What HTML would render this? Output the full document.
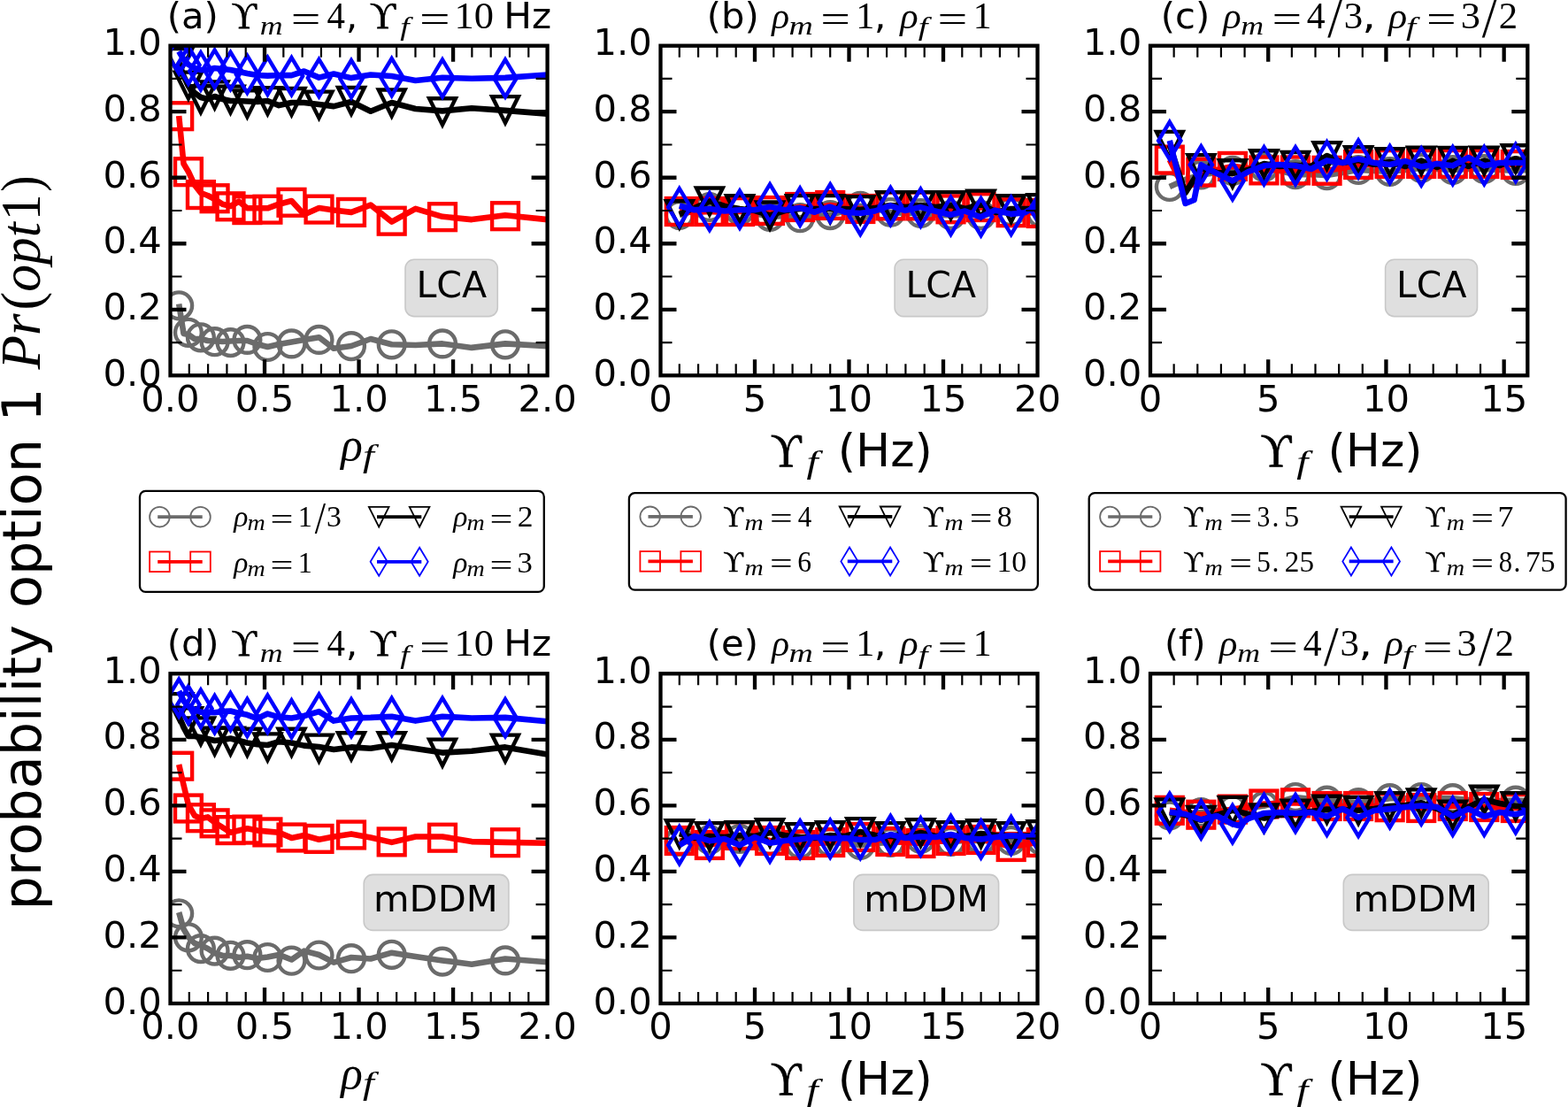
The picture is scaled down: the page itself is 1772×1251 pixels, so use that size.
<!DOCTYPE html><html><head><meta charset="utf-8"><title>Figure</title><style>html,body{margin:0;padding:0;background:#fff;}svg{display:block;}</style></head><body>
<svg width="1772" height="1251" viewBox="0 0 1772 1251">
<rect width="1772" height="1251" fill="#fff"/>
<defs>
<clipPath id="clipa"><rect x="192.5" y="51.7" width="426.1" height="372.6"/></clipPath>
<clipPath id="clipb"><rect x="746.5" y="51.7" width="426" height="372.6"/></clipPath>
<clipPath id="clipc"><rect x="1300" y="51.7" width="426.3" height="372.6"/></clipPath>
<clipPath id="clipd"><rect x="192.5" y="761.3" width="426.1" height="372.7"/></clipPath>
<clipPath id="clipe"><rect x="746.5" y="761.3" width="426" height="372.7"/></clipPath>
<clipPath id="clipf"><rect x="1300" y="761.3" width="426.3" height="372.7"/></clipPath>
</defs>
<g clip-path="url(#clipa)">
<polyline points="202.2,343.5 207.5,377 212.9,378 219.9,383 226.9,383 234.8,385 242.6,385.5 251.5,386 260.5,385.5 270,385 279.4,385 290.9,389 302.4,392 315.2,389 329.5,386.6 343.7,384 360.5,381.2 377.2,393.8 397,391 418.9,383 442.7,389.3 469.6,390 500,388.4 533.1,392.9 571,388.4 618.6,391.1" fill="none" stroke="#6b6b6b" stroke-width="6.6" stroke-linejoin="round" stroke-linecap="butt"/>
<g fill="none" stroke="#6b6b6b" stroke-width="4.4" stroke-linejoin="miter">
<circle cx="202.2" cy="345.3" r="14.9"/>
<circle cx="212.9" cy="375.8" r="14.9"/>
<circle cx="226.9" cy="381.3" r="14.9"/>
<circle cx="242.6" cy="386.2" r="14.9"/>
<circle cx="260.5" cy="387.1" r="14.9"/>
<circle cx="279.4" cy="383.9" r="14.9"/>
<circle cx="302.4" cy="392" r="14.9"/>
<circle cx="329.5" cy="388.4" r="14.9"/>
<circle cx="360.5" cy="383.9" r="14.9"/>
<circle cx="397" cy="391.1" r="14.9"/>
<circle cx="442.7" cy="389.3" r="14.9"/>
<circle cx="500" cy="388.4" r="14.9"/>
<circle cx="571" cy="389.3" r="14.9"/>
</g>
<polyline points="202.2,131 207.5,185 212.9,194 219.9,209 226.9,218 234.8,221 242.6,225 251.5,230.7 260.5,233 270,227.7 279.4,235.3 290.9,235.3 302.4,235.3 315.2,230.7 329.5,227 343.7,242.4 360.5,235 377.2,237.5 397,239.9 418.9,231.7 442.7,250.6 469.6,235.8 500,244.8 533.1,248.1 571,243.2 618.6,248.1" fill="none" stroke="#ff0000" stroke-width="6.6" stroke-linejoin="round" stroke-linecap="butt"/>
<g fill="none" stroke="#ff0000" stroke-width="4.4" stroke-linejoin="miter">
<rect x="187.3" y="116.3" width="29.8" height="29.8"/>
<rect x="198" y="179.3" width="29.8" height="29.8"/>
<rect x="212" y="205.2" width="29.8" height="29.8"/>
<rect x="227.7" y="209.3" width="29.8" height="29.8"/>
<rect x="245.6" y="218.4" width="29.8" height="29.8"/>
<rect x="264.5" y="222.2" width="29.8" height="29.8"/>
<rect x="287.5" y="221.8" width="29.8" height="29.8"/>
<rect x="314.6" y="213.9" width="29.8" height="29.8"/>
<rect x="345.6" y="221.7" width="29.8" height="29.8"/>
<rect x="382.1" y="225" width="29.8" height="29.8"/>
<rect x="427.8" y="234.8" width="29.8" height="29.8"/>
<rect x="485.1" y="230.3" width="29.8" height="29.8"/>
<rect x="556.1" y="229.3" width="29.8" height="29.8"/>
</g>
<polyline points="202.2,70 207.5,86 212.9,97 219.9,105 226.9,110 234.8,112 242.6,109 251.5,112 260.5,114 270,114 279.4,114.5 290.9,115 302.4,114 315.2,119.1 329.5,116 343.7,116 360.5,118.1 377.2,120.1 397,115 418.9,125.7 442.7,116 469.6,123 500,125.4 533.1,122.2 571,124.9 618.6,128.6" fill="none" stroke="#000000" stroke-width="6.6" stroke-linejoin="round" stroke-linecap="butt"/>
<g fill="none" stroke="#000000" stroke-width="4.4" stroke-linejoin="miter">
<path d="M187.3 55.1L217.1 55.1L202.2 84.9Z"/>
<path d="M198 81.6L227.8 81.6L212.9 111.4Z"/>
<path d="M212 97.2L241.8 97.2L226.9 127Z"/>
<path d="M227.7 92.4L257.5 92.4L242.6 122.2Z"/>
<path d="M245.6 97.6L275.4 97.6L260.5 127.4Z"/>
<path d="M264.5 102.4L294.3 102.4L279.4 132.2Z"/>
<path d="M287.5 99.1L317.3 99.1L302.4 128.9Z"/>
<path d="M314.6 100L344.4 100L329.5 129.8Z"/>
<path d="M345.6 103.6L375.4 103.6L360.5 133.4Z"/>
<path d="M382.1 99L411.9 99L397 128.8Z"/>
<path d="M427.8 101.5L457.6 101.5L442.7 131.3Z"/>
<path d="M485.1 111.3L514.9 111.3L500 141.1Z"/>
<path d="M556.1 109.1L585.9 109.1L571 138.9Z"/>
</g>
<polyline points="202.2,58 207.5,67 212.9,73 219.9,77 226.9,79 234.8,79 242.6,77 251.5,78 260.5,79 270,81 279.4,83 290.9,85 302.4,85.6 315.2,85 329.5,85.1 343.7,80.5 360.5,87.6 377.2,83.5 397,88.1 418.9,84.5 442.7,86 469.6,91 500,87.7 533.1,88.8 571,87.9 618.6,84.5" fill="none" stroke="#0000ff" stroke-width="6.6" stroke-linejoin="round" stroke-linecap="butt"/>
<g fill="none" stroke="#0000ff" stroke-width="4.4" stroke-linejoin="miter">
<path d="M202.2 40.93L214.84 62L202.2 83.07L189.56 62Z"/>
<path d="M212.9 52.53L225.54 73.6L212.9 94.67L200.26 73.6Z"/>
<path d="M226.9 59.33L239.54 80.4L226.9 101.47L214.26 80.4Z"/>
<path d="M242.6 56.53L255.24 77.6L242.6 98.67L229.96 77.6Z"/>
<path d="M260.5 58.93L273.14 80L260.5 101.07L247.86 80Z"/>
<path d="M279.4 62.93L292.04 84L279.4 105.07L266.76 84Z"/>
<path d="M302.4 64.73L315.04 85.8L302.4 106.87L289.76 85.8Z"/>
<path d="M329.5 65.03L342.14 86.1L329.5 107.17L316.86 86.1Z"/>
<path d="M360.5 67.03L373.14 88.1L360.5 109.17L347.86 88.1Z"/>
<path d="M397 68.03L409.64 89.1L397 110.17L384.36 89.1Z"/>
<path d="M442.7 66.03L455.34 87.1L442.7 108.17L430.06 87.1Z"/>
<path d="M500 67.33L512.64 88.4L500 109.47L487.36 88.4Z"/>
<path d="M571 67.33L583.64 88.4L571 109.47L558.36 88.4Z"/>
</g>
</g>
<g stroke="#000">
<path d="M213.81 424.3v-13M213.81 51.7v13" stroke-width="2.2"/>
<path d="M235.11 424.3v-13M235.11 51.7v13" stroke-width="2.2"/>
<path d="M256.42 424.3v-13M256.42 51.7v13" stroke-width="2.2"/>
<path d="M277.72 424.3v-13M277.72 51.7v13" stroke-width="2.2"/>
<path d="M320.33 424.3v-13M320.33 51.7v13" stroke-width="2.2"/>
<path d="M341.63 424.3v-13M341.63 51.7v13" stroke-width="2.2"/>
<path d="M362.94 424.3v-13M362.94 51.7v13" stroke-width="2.2"/>
<path d="M384.25 424.3v-13M384.25 51.7v13" stroke-width="2.2"/>
<path d="M426.86 424.3v-13M426.86 51.7v13" stroke-width="2.2"/>
<path d="M448.16 424.3v-13M448.16 51.7v13" stroke-width="2.2"/>
<path d="M469.47 424.3v-13M469.47 51.7v13" stroke-width="2.2"/>
<path d="M490.77 424.3v-13M490.77 51.7v13" stroke-width="2.2"/>
<path d="M533.38 424.3v-13M533.38 51.7v13" stroke-width="2.2"/>
<path d="M554.69 424.3v-13M554.69 51.7v13" stroke-width="2.2"/>
<path d="M575.99 424.3v-13M575.99 51.7v13" stroke-width="2.2"/>
<path d="M597.3 424.3v-13M597.3 51.7v13" stroke-width="2.2"/>
<path d="M299.02 424.3v-18M299.02 51.7v18" stroke-width="4.3"/>
<path d="M405.55 424.3v-18M405.55 51.7v18" stroke-width="4.3"/>
<path d="M512.08 424.3v-18M512.08 51.7v18" stroke-width="4.3"/>
<path d="M192.5 387.04h13M618.6 387.04h-13" stroke-width="2.2"/>
<path d="M192.5 349.78h18M618.6 349.78h-18" stroke-width="4.3"/>
<path d="M192.5 312.52h13M618.6 312.52h-13" stroke-width="2.2"/>
<path d="M192.5 275.26h18M618.6 275.26h-18" stroke-width="4.3"/>
<path d="M192.5 238h13M618.6 238h-13" stroke-width="2.2"/>
<path d="M192.5 200.74h18M618.6 200.74h-18" stroke-width="4.3"/>
<path d="M192.5 163.48h13M618.6 163.48h-13" stroke-width="2.2"/>
<path d="M192.5 126.22h18M618.6 126.22h-18" stroke-width="4.3"/>
<path d="M192.5 88.96h13M618.6 88.96h-13" stroke-width="2.2"/>
</g>
<rect x="192.5" y="51.7" width="426.1" height="372.6" fill="none" stroke="#000" stroke-width="4.3"/>
<g font-family="'DejaVu Sans', 'Liberation Sans', sans-serif" font-size="41.7" fill="#000">
<text x="182.7" y="435.85" text-anchor="end">0.0</text>
<text x="182.7" y="361.08" text-anchor="end">0.2</text>
<text x="182.7" y="286.31" text-anchor="end">0.4</text>
<text x="182.7" y="211.54" text-anchor="end">0.6</text>
<text x="182.7" y="136.77" text-anchor="end">0.8</text>
<text x="182.7" y="62" text-anchor="end">1.0</text>
<text x="192.5" y="464.6" text-anchor="middle">0.0</text>
<text x="299.02" y="464.6" text-anchor="middle">0.5</text>
<text x="405.55" y="464.6" text-anchor="middle">1.0</text>
<text x="512.08" y="464.6" text-anchor="middle">1.5</text>
<text x="618.6" y="464.6" text-anchor="middle">2.0</text>
</g>
<g clip-path="url(#clipb)">
<polyline points="767.8,243 784.84,238 801.88,234 818.92,236 835.96,238 853,241 870.04,245 887.08,244 904.12,246.2 921.16,244 938.2,243.1 955.24,238 972.28,232.9 989.32,236 1006.36,240 1023.4,241 1040.44,241 1057.48,243 1074.52,243.1 1091.56,243 1108.6,243.1 1125.64,241 1142.68,239.2 1172.5,240 1176.76,241" fill="none" stroke="#6b6b6b" stroke-width="6.6" stroke-linejoin="round" stroke-linecap="butt"/>
<g fill="none" stroke="#6b6b6b" stroke-width="4.4" stroke-linejoin="miter">
<circle cx="767.8" cy="243" r="14.9"/>
<circle cx="801.88" cy="234" r="14.9"/>
<circle cx="835.96" cy="238" r="14.9"/>
<circle cx="870.04" cy="245" r="14.9"/>
<circle cx="904.12" cy="246.2" r="14.9"/>
<circle cx="938.2" cy="243.1" r="14.9"/>
<circle cx="972.28" cy="232.9" r="14.9"/>
<circle cx="1006.36" cy="240" r="14.9"/>
<circle cx="1040.44" cy="241" r="14.9"/>
<circle cx="1074.52" cy="243.1" r="14.9"/>
<circle cx="1108.6" cy="243.1" r="14.9"/>
<circle cx="1142.68" cy="239.2" r="14.9"/>
<circle cx="1176.76" cy="241" r="14.9"/>
</g>
<polyline points="767.8,239 784.84,240 801.88,239 818.92,240 835.96,239 853,239 870.04,238 887.08,237 904.12,234 921.16,235 938.2,232 955.24,234 972.28,236 989.32,235 1006.36,232.4 1023.4,233 1040.44,232.4 1057.48,235 1074.52,236.3 1091.56,236 1108.6,234.1 1125.64,238 1142.68,240.2 1172.5,240 1176.76,241" fill="none" stroke="#ff0000" stroke-width="6.6" stroke-linejoin="round" stroke-linecap="butt"/>
<g fill="none" stroke="#ff0000" stroke-width="4.4" stroke-linejoin="miter">
<rect x="752.9" y="224.1" width="29.8" height="29.8"/>
<rect x="786.98" y="224.1" width="29.8" height="29.8"/>
<rect x="821.06" y="224.1" width="29.8" height="29.8"/>
<rect x="855.14" y="223.1" width="29.8" height="29.8"/>
<rect x="889.22" y="219.1" width="29.8" height="29.8"/>
<rect x="923.3" y="217.1" width="29.8" height="29.8"/>
<rect x="957.38" y="221.1" width="29.8" height="29.8"/>
<rect x="991.46" y="217.5" width="29.8" height="29.8"/>
<rect x="1025.54" y="217.5" width="29.8" height="29.8"/>
<rect x="1059.62" y="221.4" width="29.8" height="29.8"/>
<rect x="1093.7" y="219.2" width="29.8" height="29.8"/>
<rect x="1127.78" y="225.3" width="29.8" height="29.8"/>
<rect x="1161.86" y="226.1" width="29.8" height="29.8"/>
</g>
<polyline points="767.8,242.1 784.84,235 801.88,227.4 818.92,233 835.96,236 853,238 870.04,243.4 887.08,238 904.12,236 921.16,236 938.2,236 955.24,236 972.28,237 989.32,235 1006.36,232 1023.4,234 1040.44,232 1057.48,234 1074.52,232 1091.56,236 1108.6,230.5 1125.64,240 1142.68,236 1172.5,236 1176.76,235" fill="none" stroke="#000000" stroke-width="6.6" stroke-linejoin="round" stroke-linecap="butt"/>
<g fill="none" stroke="#000000" stroke-width="4.4" stroke-linejoin="miter">
<path d="M752.9 227.2L782.7 227.2L767.8 257Z"/>
<path d="M786.98 212.5L816.78 212.5L801.88 242.3Z"/>
<path d="M821.06 221.1L850.86 221.1L835.96 250.9Z"/>
<path d="M855.14 228.5L884.94 228.5L870.04 258.3Z"/>
<path d="M889.22 221.1L919.02 221.1L904.12 250.9Z"/>
<path d="M923.3 221.1L953.1 221.1L938.2 250.9Z"/>
<path d="M957.38 222.1L987.18 222.1L972.28 251.9Z"/>
<path d="M991.46 217.1L1021.26 217.1L1006.36 246.9Z"/>
<path d="M1025.54 217.1L1055.34 217.1L1040.44 246.9Z"/>
<path d="M1059.62 217.1L1089.42 217.1L1074.52 246.9Z"/>
<path d="M1093.7 215.6L1123.5 215.6L1108.6 245.4Z"/>
<path d="M1127.78 221.1L1157.58 221.1L1142.68 250.9Z"/>
<path d="M1161.86 220.1L1191.66 220.1L1176.76 249.9Z"/>
</g>
<polyline points="767.8,232.5 784.8,237.3 801.8,236.1 818.8,238.5 835.8,237.3 852.8,237.3 870.2,233.7 886.7,237.3 903.7,234.9 920.7,239.7 937.7,233.7 954.7,239.7 972.2,241 988.7,238.5 1006.1,232.4 1022.6,238 1040.1,234.1 1056.6,238.5 1074.1,242.8 1090.6,238.5 1108,245.4 1124.5,237.6 1142.7,241.9 1158.5,240.2 1172.5,232 1176.76,236" fill="none" stroke="#0000ff" stroke-width="6.6" stroke-linejoin="round" stroke-linecap="butt"/>
<g fill="none" stroke="#0000ff" stroke-width="4.4" stroke-linejoin="miter">
<path d="M767.8 213.13L780.44 234.2L767.8 255.27L755.16 234.2Z"/>
<path d="M801.88 217.93L814.52 239L801.88 260.07L789.24 239Z"/>
<path d="M835.96 215.53L848.6 236.6L835.96 257.67L823.32 236.6Z"/>
<path d="M870.04 208.23L882.68 229.3L870.04 250.37L857.4 229.3Z"/>
<path d="M904.12 212.63L916.76 233.7L904.12 254.77L891.48 233.7Z"/>
<path d="M938.2 208.23L950.84 229.3L938.2 250.37L925.56 229.3Z"/>
<path d="M972.28 222.83L984.92 243.9L972.28 264.97L959.64 243.9Z"/>
<path d="M1006.36 211.93L1019 233L1006.36 254.07L993.72 233Z"/>
<path d="M1040.44 213.53L1053.08 234.6L1040.44 255.67L1027.8 234.6Z"/>
<path d="M1074.52 222.83L1087.16 243.9L1074.52 264.97L1061.88 243.9Z"/>
<path d="M1108.6 224.03L1121.24 245.1L1108.6 266.17L1095.96 245.1Z"/>
<path d="M1142.68 222.83L1155.32 243.9L1142.68 264.97L1130.04 243.9Z"/>
<path d="M1176.76 214.93L1189.4 236L1176.76 257.07L1164.12 236Z"/>
</g>
</g>
<g stroke="#000">
<path d="M767.8 424.3v-13M767.8 51.7v13" stroke-width="2.2"/>
<path d="M789.1 424.3v-13M789.1 51.7v13" stroke-width="2.2"/>
<path d="M810.4 424.3v-13M810.4 51.7v13" stroke-width="2.2"/>
<path d="M831.7 424.3v-13M831.7 51.7v13" stroke-width="2.2"/>
<path d="M874.3 424.3v-13M874.3 51.7v13" stroke-width="2.2"/>
<path d="M895.6 424.3v-13M895.6 51.7v13" stroke-width="2.2"/>
<path d="M916.9 424.3v-13M916.9 51.7v13" stroke-width="2.2"/>
<path d="M938.2 424.3v-13M938.2 51.7v13" stroke-width="2.2"/>
<path d="M980.8 424.3v-13M980.8 51.7v13" stroke-width="2.2"/>
<path d="M1002.1 424.3v-13M1002.1 51.7v13" stroke-width="2.2"/>
<path d="M1023.4 424.3v-13M1023.4 51.7v13" stroke-width="2.2"/>
<path d="M1044.7 424.3v-13M1044.7 51.7v13" stroke-width="2.2"/>
<path d="M1087.3 424.3v-13M1087.3 51.7v13" stroke-width="2.2"/>
<path d="M1108.6 424.3v-13M1108.6 51.7v13" stroke-width="2.2"/>
<path d="M1129.9 424.3v-13M1129.9 51.7v13" stroke-width="2.2"/>
<path d="M1151.2 424.3v-13M1151.2 51.7v13" stroke-width="2.2"/>
<path d="M853 424.3v-18M853 51.7v18" stroke-width="4.3"/>
<path d="M959.5 424.3v-18M959.5 51.7v18" stroke-width="4.3"/>
<path d="M1066 424.3v-18M1066 51.7v18" stroke-width="4.3"/>
<path d="M746.5 387.04h13M1172.5 387.04h-13" stroke-width="2.2"/>
<path d="M746.5 349.78h18M1172.5 349.78h-18" stroke-width="4.3"/>
<path d="M746.5 312.52h13M1172.5 312.52h-13" stroke-width="2.2"/>
<path d="M746.5 275.26h18M1172.5 275.26h-18" stroke-width="4.3"/>
<path d="M746.5 238h13M1172.5 238h-13" stroke-width="2.2"/>
<path d="M746.5 200.74h18M1172.5 200.74h-18" stroke-width="4.3"/>
<path d="M746.5 163.48h13M1172.5 163.48h-13" stroke-width="2.2"/>
<path d="M746.5 126.22h18M1172.5 126.22h-18" stroke-width="4.3"/>
<path d="M746.5 88.96h13M1172.5 88.96h-13" stroke-width="2.2"/>
</g>
<rect x="746.5" y="51.7" width="426" height="372.6" fill="none" stroke="#000" stroke-width="4.3"/>
<g font-family="'DejaVu Sans', 'Liberation Sans', sans-serif" font-size="41.7" fill="#000">
<text x="736.7" y="435.85" text-anchor="end">0.0</text>
<text x="736.7" y="361.08" text-anchor="end">0.2</text>
<text x="736.7" y="286.31" text-anchor="end">0.4</text>
<text x="736.7" y="211.54" text-anchor="end">0.6</text>
<text x="736.7" y="136.77" text-anchor="end">0.8</text>
<text x="736.7" y="62" text-anchor="end">1.0</text>
<text x="746.5" y="464.6" text-anchor="middle">0</text>
<text x="853" y="464.6" text-anchor="middle">5</text>
<text x="959.5" y="464.6" text-anchor="middle">10</text>
<text x="1066" y="464.6" text-anchor="middle">15</text>
<text x="1172.5" y="464.6" text-anchor="middle">20</text>
</g>
<g clip-path="url(#clipc)">
<polyline points="1321.8,211 1339.57,203 1357.35,197.5 1375.12,195 1392.9,192.9 1410.67,191 1428.45,189 1446.22,193 1464,197.2 1481.78,197 1499.55,198.1 1517.32,195 1535.1,192 1552.88,193 1570.65,194 1588.42,192 1606.2,190 1623.97,191 1641.75,192 1659.53,191 1677.3,191 1695.07,192 1712.85,193 1726.3,192" fill="none" stroke="#6b6b6b" stroke-width="6.6" stroke-linejoin="round" stroke-linecap="butt"/>
<g fill="none" stroke="#6b6b6b" stroke-width="4.4" stroke-linejoin="miter">
<circle cx="1321.8" cy="211" r="14.9"/>
<circle cx="1357.35" cy="197.5" r="14.9"/>
<circle cx="1392.9" cy="192.9" r="14.9"/>
<circle cx="1428.45" cy="189" r="14.9"/>
<circle cx="1464" cy="197.2" r="14.9"/>
<circle cx="1499.55" cy="198.1" r="14.9"/>
<circle cx="1535.1" cy="192" r="14.9"/>
<circle cx="1570.65" cy="194" r="14.9"/>
<circle cx="1606.2" cy="190" r="14.9"/>
<circle cx="1641.75" cy="192" r="14.9"/>
<circle cx="1677.3" cy="191" r="14.9"/>
<circle cx="1712.85" cy="193" r="14.9"/>
</g>
<polyline points="1321.8,180.6 1339.57,216 1357.35,194.6 1375.12,192 1392.9,187.9 1410.67,190 1428.45,192.4 1446.22,192 1464,192.4 1481.78,192 1499.55,192.8 1517.32,190 1535.1,186 1552.88,186 1570.65,185 1588.42,185 1606.2,185 1623.97,185 1641.75,185 1659.53,185 1677.3,185 1695.07,185 1712.85,186 1726.3,186" fill="none" stroke="#ff0000" stroke-width="6.6" stroke-linejoin="round" stroke-linecap="butt"/>
<g fill="none" stroke="#ff0000" stroke-width="4.4" stroke-linejoin="miter">
<rect x="1306.9" y="165.7" width="29.8" height="29.8"/>
<rect x="1342.45" y="179.7" width="29.8" height="29.8"/>
<rect x="1378" y="173" width="29.8" height="29.8"/>
<rect x="1413.55" y="177.5" width="29.8" height="29.8"/>
<rect x="1449.1" y="177.5" width="29.8" height="29.8"/>
<rect x="1484.65" y="177.9" width="29.8" height="29.8"/>
<rect x="1520.2" y="171.1" width="29.8" height="29.8"/>
<rect x="1555.75" y="170.1" width="29.8" height="29.8"/>
<rect x="1591.3" y="170.1" width="29.8" height="29.8"/>
<rect x="1626.85" y="170.1" width="29.8" height="29.8"/>
<rect x="1662.4" y="170.1" width="29.8" height="29.8"/>
<rect x="1697.95" y="171.1" width="29.8" height="29.8"/>
</g>
<polyline points="1321.8,163.8 1339.57,218 1357.35,190 1375.12,195 1392.9,196.1 1410.67,192 1428.45,185.1 1446.22,188 1464,186.9 1481.78,188 1499.55,176 1517.32,184 1535.1,181.1 1552.88,186 1570.65,183 1588.42,188 1606.2,181.5 1623.97,189 1641.75,181.8 1659.53,188 1677.3,181.5 1695.07,187 1712.85,179.2 1726.3,186" fill="none" stroke="#000000" stroke-width="6.6" stroke-linejoin="round" stroke-linecap="butt"/>
<g fill="none" stroke="#000000" stroke-width="4.4" stroke-linejoin="miter">
<path d="M1306.9 148.9L1336.7 148.9L1321.8 178.7Z"/>
<path d="M1342.45 175.1L1372.25 175.1L1357.35 204.9Z"/>
<path d="M1378 181.2L1407.8 181.2L1392.9 211Z"/>
<path d="M1413.55 170.2L1443.35 170.2L1428.45 200Z"/>
<path d="M1449.1 172L1478.9 172L1464 201.8Z"/>
<path d="M1484.65 161.1L1514.45 161.1L1499.55 190.9Z"/>
<path d="M1520.2 166.2L1550 166.2L1535.1 196Z"/>
<path d="M1555.75 168.1L1585.55 168.1L1570.65 197.9Z"/>
<path d="M1591.3 166.6L1621.1 166.6L1606.2 196.4Z"/>
<path d="M1626.85 166.9L1656.65 166.9L1641.75 196.7Z"/>
<path d="M1662.4 166.6L1692.2 166.6L1677.3 196.4Z"/>
<path d="M1697.95 164.3L1727.75 164.3L1712.85 194.1Z"/>
</g>
<polyline points="1321.8,158.9 1339.57,230 1349.5,226 1357.35,186.3 1375.12,196 1392.9,204.4 1410.67,194 1428.45,187.3 1446.22,186 1464,187.3 1481.78,191 1499.55,181.4 1517.32,184 1535.1,179.5 1552.88,184 1570.65,186 1588.42,182 1606.2,188.5 1623.97,185 1641.75,187.2 1659.53,178 1677.3,187.2 1695.07,184 1712.85,184 1726.3,184" fill="none" stroke="#0000ff" stroke-width="6.6" stroke-linejoin="round" stroke-linecap="butt"/>
<g fill="none" stroke="#0000ff" stroke-width="4.4" stroke-linejoin="miter">
<path d="M1321.8 137.83L1334.44 158.9L1321.8 179.97L1309.16 158.9Z"/>
<path d="M1357.35 165.23L1369.99 186.3L1357.35 207.37L1344.71 186.3Z"/>
<path d="M1392.9 183.33L1405.54 204.4L1392.9 225.47L1380.26 204.4Z"/>
<path d="M1428.45 166.23L1441.09 187.3L1428.45 208.37L1415.81 187.3Z"/>
<path d="M1464 166.23L1476.64 187.3L1464 208.37L1451.36 187.3Z"/>
<path d="M1499.55 160.33L1512.19 181.4L1499.55 202.47L1486.91 181.4Z"/>
<path d="M1535.1 158.43L1547.74 179.5L1535.1 200.57L1522.46 179.5Z"/>
<path d="M1570.65 164.93L1583.29 186L1570.65 207.07L1558.01 186Z"/>
<path d="M1606.2 167.43L1618.84 188.5L1606.2 209.57L1593.56 188.5Z"/>
<path d="M1641.75 166.13L1654.39 187.2L1641.75 208.27L1629.11 187.2Z"/>
<path d="M1677.3 166.13L1689.94 187.2L1677.3 208.27L1664.66 187.2Z"/>
<path d="M1712.85 162.93L1725.49 184L1712.85 205.07L1700.21 184Z"/>
</g>
</g>
<g stroke="#000">
<path d="M1326.64 424.3v-13M1326.64 51.7v13" stroke-width="2.2"/>
<path d="M1353.29 424.3v-13M1353.29 51.7v13" stroke-width="2.2"/>
<path d="M1379.93 424.3v-13M1379.93 51.7v13" stroke-width="2.2"/>
<path d="M1406.58 424.3v-13M1406.58 51.7v13" stroke-width="2.2"/>
<path d="M1459.86 424.3v-13M1459.86 51.7v13" stroke-width="2.2"/>
<path d="M1486.51 424.3v-13M1486.51 51.7v13" stroke-width="2.2"/>
<path d="M1513.15 424.3v-13M1513.15 51.7v13" stroke-width="2.2"/>
<path d="M1539.79 424.3v-13M1539.79 51.7v13" stroke-width="2.2"/>
<path d="M1593.08 424.3v-13M1593.08 51.7v13" stroke-width="2.2"/>
<path d="M1619.72 424.3v-13M1619.72 51.7v13" stroke-width="2.2"/>
<path d="M1646.37 424.3v-13M1646.37 51.7v13" stroke-width="2.2"/>
<path d="M1673.01 424.3v-13M1673.01 51.7v13" stroke-width="2.2"/>
<path d="M1433.22 424.3v-18M1433.22 51.7v18" stroke-width="4.3"/>
<path d="M1566.44 424.3v-18M1566.44 51.7v18" stroke-width="4.3"/>
<path d="M1699.66 424.3v-18M1699.66 51.7v18" stroke-width="4.3"/>
<path d="M1300 387.04h13M1726.3 387.04h-13" stroke-width="2.2"/>
<path d="M1300 349.78h18M1726.3 349.78h-18" stroke-width="4.3"/>
<path d="M1300 312.52h13M1726.3 312.52h-13" stroke-width="2.2"/>
<path d="M1300 275.26h18M1726.3 275.26h-18" stroke-width="4.3"/>
<path d="M1300 238h13M1726.3 238h-13" stroke-width="2.2"/>
<path d="M1300 200.74h18M1726.3 200.74h-18" stroke-width="4.3"/>
<path d="M1300 163.48h13M1726.3 163.48h-13" stroke-width="2.2"/>
<path d="M1300 126.22h18M1726.3 126.22h-18" stroke-width="4.3"/>
<path d="M1300 88.96h13M1726.3 88.96h-13" stroke-width="2.2"/>
</g>
<rect x="1300" y="51.7" width="426.3" height="372.6" fill="none" stroke="#000" stroke-width="4.3"/>
<g font-family="'DejaVu Sans', 'Liberation Sans', sans-serif" font-size="41.7" fill="#000">
<text x="1290.2" y="435.85" text-anchor="end">0.0</text>
<text x="1290.2" y="361.08" text-anchor="end">0.2</text>
<text x="1290.2" y="286.31" text-anchor="end">0.4</text>
<text x="1290.2" y="211.54" text-anchor="end">0.6</text>
<text x="1290.2" y="136.77" text-anchor="end">0.8</text>
<text x="1290.2" y="62" text-anchor="end">1.0</text>
<text x="1300" y="464.6" text-anchor="middle">0</text>
<text x="1433.22" y="464.6" text-anchor="middle">5</text>
<text x="1566.44" y="464.6" text-anchor="middle">10</text>
<text x="1699.66" y="464.6" text-anchor="middle">15</text>
</g>
<g clip-path="url(#clipd)">
<polyline points="202.2,1031 207.5,1050 212.9,1059 219.9,1066 226.9,1068.3 234.8,1072 242.6,1077 251.5,1080 260.5,1080 270,1082 279.4,1080.8 290.9,1083 302.4,1081.5 315.2,1078.9 329.5,1084.5 343.7,1074.6 360.5,1079 377.2,1087.6 397,1082 418.9,1083.5 442.7,1076.7 469.6,1081 500,1085.4 533.1,1089.7 571,1083.5 618.6,1087.2" fill="none" stroke="#6b6b6b" stroke-width="6.6" stroke-linejoin="round" stroke-linecap="butt"/>
<g fill="none" stroke="#6b6b6b" stroke-width="4.4" stroke-linejoin="miter">
<circle cx="202.2" cy="1032.3" r="14.9"/>
<circle cx="212.9" cy="1059.3" r="14.9"/>
<circle cx="226.9" cy="1072.1" r="14.9"/>
<circle cx="242.6" cy="1074.6" r="14.9"/>
<circle cx="260.5" cy="1079.8" r="14.9"/>
<circle cx="279.4" cy="1079.2" r="14.9"/>
<circle cx="302.4" cy="1082" r="14.9"/>
<circle cx="329.5" cy="1085.7" r="14.9"/>
<circle cx="360.5" cy="1079.5" r="14.9"/>
<circle cx="397" cy="1083.2" r="14.9"/>
<circle cx="442.7" cy="1078.8" r="14.9"/>
<circle cx="500" cy="1086.6" r="14.9"/>
<circle cx="571" cy="1085.4" r="14.9"/>
</g>
<polyline points="202.2,864 207.5,887 212.9,909.4 219.9,921.7 226.9,925 234.8,923.4 242.6,929.5 251.5,935 260.5,940.7 270,938.5 279.4,936.2 290.9,938.5 302.4,939.6 315.2,940.7 329.5,946.9 343.7,944 360.5,948.7 377.2,945.5 397,942.4 418.9,946.5 442.7,951.9 469.6,945.5 500,945.5 533.1,951.1 571,951.9 618.6,952.7" fill="none" stroke="#ff0000" stroke-width="6.6" stroke-linejoin="round" stroke-linecap="butt"/>
<g fill="none" stroke="#ff0000" stroke-width="4.4" stroke-linejoin="miter">
<rect x="187.3" y="850.8" width="29.8" height="29.8"/>
<rect x="198" y="898.6" width="29.8" height="29.8"/>
<rect x="212" y="909.3" width="29.8" height="29.8"/>
<rect x="227.7" y="915.4" width="29.8" height="29.8"/>
<rect x="245.6" y="923.2" width="29.8" height="29.8"/>
<rect x="264.5" y="922.7" width="29.8" height="29.8"/>
<rect x="287.5" y="925.5" width="29.8" height="29.8"/>
<rect x="314.6" y="931.6" width="29.8" height="29.8"/>
<rect x="345.6" y="933" width="29.8" height="29.8"/>
<rect x="382.1" y="928.6" width="29.8" height="29.8"/>
<rect x="427.8" y="936.5" width="29.8" height="29.8"/>
<rect x="485.1" y="931.8" width="29.8" height="29.8"/>
<rect x="556.1" y="937.3" width="29.8" height="29.8"/>
</g>
<polyline points="202.2,809 207.5,822 212.9,832 219.9,832 226.9,833.2 234.8,835 242.6,837 251.5,836 260.5,834.5 270,837 279.4,839.5 290.9,841.3 302.4,842 315.2,838.2 329.5,839.5 343.7,842.6 360.5,844 377.2,846.9 397,844.4 418.9,845.7 442.7,842 469.6,846 500,850.6 533.1,848.8 571,844.4 618.6,852.5" fill="none" stroke="#000000" stroke-width="6.6" stroke-linejoin="round" stroke-linecap="butt"/>
<g fill="none" stroke="#000000" stroke-width="4.4" stroke-linejoin="miter">
<path d="M187.3 784.1L217.1 784.1L202.2 813.9Z"/>
<path d="M198 800.2L227.8 800.2L212.9 830Z"/>
<path d="M212 811.4L241.8 811.4L226.9 841.2Z"/>
<path d="M227.7 822.6L257.5 822.6L242.6 852.4Z"/>
<path d="M245.6 822.6L275.4 822.6L260.5 852.4Z"/>
<path d="M264.5 823.8L294.3 823.8L279.4 853.6Z"/>
<path d="M287.5 829.4L317.3 829.4L302.4 859.2Z"/>
<path d="M314.6 823.8L344.4 823.8L329.5 853.6Z"/>
<path d="M345.6 830.6L375.4 830.6L360.5 860.4Z"/>
<path d="M382.1 828.2L411.9 828.2L397 858Z"/>
<path d="M427.8 828.2L457.6 828.2L442.7 858Z"/>
<path d="M485.1 835.6L514.9 835.6L500 865.4Z"/>
<path d="M556.1 830.6L585.9 830.6L571 860.4Z"/>
</g>
<polyline points="202.2,781 207.5,792 212.9,798 219.9,802 226.9,804.7 234.8,805 242.6,805.3 251.5,804 260.5,803.5 270,806 279.4,807.8 290.9,812.1 302.4,806.6 315.2,810.3 329.5,811.5 343.7,809 360.5,804.1 377.2,814.6 397,811.5 418.9,810.9 442.7,809.7 469.6,814.6 500,809.7 533.1,811.5 571,810.9 618.6,815.2" fill="none" stroke="#0000ff" stroke-width="6.6" stroke-linejoin="round" stroke-linecap="butt"/>
<g fill="none" stroke="#0000ff" stroke-width="4.4" stroke-linejoin="miter">
<path d="M202.2 767.53L214.84 788.6L202.2 809.67L189.56 788.6Z"/>
<path d="M212.9 775.53L225.54 796.6L212.9 817.67L200.26 796.6Z"/>
<path d="M226.9 779.63L239.54 800.7L226.9 821.77L214.26 800.7Z"/>
<path d="M242.6 786.13L255.24 807.2L242.6 828.27L229.96 807.2Z"/>
<path d="M260.5 783.03L273.14 804.1L260.5 825.17L247.86 804.1Z"/>
<path d="M279.4 789.83L292.04 810.9L279.4 831.97L266.76 810.9Z"/>
<path d="M302.4 785.53L315.04 806.6L302.4 827.67L289.76 806.6Z"/>
<path d="M329.5 791.33L342.14 812.4L329.5 833.47L316.86 812.4Z"/>
<path d="M360.5 784.53L373.14 805.6L360.5 826.67L347.86 805.6Z"/>
<path d="M397 790.03L409.64 811.1L397 832.17L384.36 811.1Z"/>
<path d="M442.7 788.83L455.34 809.9L442.7 830.97L430.06 809.9Z"/>
<path d="M500 788.83L512.64 809.9L500 830.97L487.36 809.9Z"/>
<path d="M571 790.03L583.64 811.1L571 832.17L558.36 811.1Z"/>
</g>
</g>
<g stroke="#000">
<path d="M213.81 1134v-13M213.81 761.3v13" stroke-width="2.2"/>
<path d="M235.11 1134v-13M235.11 761.3v13" stroke-width="2.2"/>
<path d="M256.42 1134v-13M256.42 761.3v13" stroke-width="2.2"/>
<path d="M277.72 1134v-13M277.72 761.3v13" stroke-width="2.2"/>
<path d="M320.33 1134v-13M320.33 761.3v13" stroke-width="2.2"/>
<path d="M341.63 1134v-13M341.63 761.3v13" stroke-width="2.2"/>
<path d="M362.94 1134v-13M362.94 761.3v13" stroke-width="2.2"/>
<path d="M384.25 1134v-13M384.25 761.3v13" stroke-width="2.2"/>
<path d="M426.86 1134v-13M426.86 761.3v13" stroke-width="2.2"/>
<path d="M448.16 1134v-13M448.16 761.3v13" stroke-width="2.2"/>
<path d="M469.47 1134v-13M469.47 761.3v13" stroke-width="2.2"/>
<path d="M490.77 1134v-13M490.77 761.3v13" stroke-width="2.2"/>
<path d="M533.38 1134v-13M533.38 761.3v13" stroke-width="2.2"/>
<path d="M554.69 1134v-13M554.69 761.3v13" stroke-width="2.2"/>
<path d="M575.99 1134v-13M575.99 761.3v13" stroke-width="2.2"/>
<path d="M597.3 1134v-13M597.3 761.3v13" stroke-width="2.2"/>
<path d="M299.02 1134v-18M299.02 761.3v18" stroke-width="4.3"/>
<path d="M405.55 1134v-18M405.55 761.3v18" stroke-width="4.3"/>
<path d="M512.08 1134v-18M512.08 761.3v18" stroke-width="4.3"/>
<path d="M192.5 1096.73h13M618.6 1096.73h-13" stroke-width="2.2"/>
<path d="M192.5 1059.46h18M618.6 1059.46h-18" stroke-width="4.3"/>
<path d="M192.5 1022.19h13M618.6 1022.19h-13" stroke-width="2.2"/>
<path d="M192.5 984.92h18M618.6 984.92h-18" stroke-width="4.3"/>
<path d="M192.5 947.65h13M618.6 947.65h-13" stroke-width="2.2"/>
<path d="M192.5 910.38h18M618.6 910.38h-18" stroke-width="4.3"/>
<path d="M192.5 873.11h13M618.6 873.11h-13" stroke-width="2.2"/>
<path d="M192.5 835.84h18M618.6 835.84h-18" stroke-width="4.3"/>
<path d="M192.5 798.57h13M618.6 798.57h-13" stroke-width="2.2"/>
</g>
<rect x="192.5" y="761.3" width="426.1" height="372.7" fill="none" stroke="#000" stroke-width="4.3"/>
<g font-family="'DejaVu Sans', 'Liberation Sans', sans-serif" font-size="41.7" fill="#000">
<text x="182.7" y="1145.55" text-anchor="end">0.0</text>
<text x="182.7" y="1070.76" text-anchor="end">0.2</text>
<text x="182.7" y="995.97" text-anchor="end">0.4</text>
<text x="182.7" y="921.18" text-anchor="end">0.6</text>
<text x="182.7" y="846.39" text-anchor="end">0.8</text>
<text x="182.7" y="771.6" text-anchor="end">1.0</text>
<text x="192.5" y="1174.3" text-anchor="middle">0.0</text>
<text x="299.02" y="1174.3" text-anchor="middle">0.5</text>
<text x="405.55" y="1174.3" text-anchor="middle">1.0</text>
<text x="512.08" y="1174.3" text-anchor="middle">1.5</text>
<text x="618.6" y="1174.3" text-anchor="middle">2.0</text>
</g>
<g clip-path="url(#clipe)">
<polyline points="767.8,951 784.84,950 801.88,949 818.92,949 835.96,948 853,949 870.04,950 887.08,952 904.12,954 921.16,953 938.2,952 955.24,953 972.28,955 989.32,953 1006.36,952 1023.4,950 1040.44,948 1057.48,950 1074.52,951 1091.56,950 1108.6,950 1125.64,950 1142.68,950 1172.5,950 1176.76,950" fill="none" stroke="#6b6b6b" stroke-width="6.6" stroke-linejoin="round" stroke-linecap="butt"/>
<g fill="none" stroke="#6b6b6b" stroke-width="4.4" stroke-linejoin="miter">
<circle cx="767.8" cy="951" r="14.9"/>
<circle cx="801.88" cy="949" r="14.9"/>
<circle cx="835.96" cy="948" r="14.9"/>
<circle cx="870.04" cy="950" r="14.9"/>
<circle cx="904.12" cy="954" r="14.9"/>
<circle cx="938.2" cy="952" r="14.9"/>
<circle cx="972.28" cy="955" r="14.9"/>
<circle cx="1006.36" cy="952" r="14.9"/>
<circle cx="1040.44" cy="948" r="14.9"/>
<circle cx="1074.52" cy="951" r="14.9"/>
<circle cx="1108.6" cy="950" r="14.9"/>
<circle cx="1142.68" cy="950" r="14.9"/>
<circle cx="1176.76" cy="950" r="14.9"/>
</g>
<polyline points="767.8,950 784.84,952 801.88,955 818.92,950 835.96,944 853,947 870.04,950 887.08,952 904.12,955 921.16,953 938.2,952 955.24,949 972.28,946 989.32,948 1006.36,951 1023.4,952 1040.44,953 1057.48,951 1074.52,950 1091.56,949 1108.6,949 1125.64,952 1142.68,957 1172.5,952 1176.76,952" fill="none" stroke="#ff0000" stroke-width="6.6" stroke-linejoin="round" stroke-linecap="butt"/>
<g fill="none" stroke="#ff0000" stroke-width="4.4" stroke-linejoin="miter">
<rect x="752.9" y="935.1" width="29.8" height="29.8"/>
<rect x="786.98" y="940.1" width="29.8" height="29.8"/>
<rect x="821.06" y="929.1" width="29.8" height="29.8"/>
<rect x="855.14" y="935.1" width="29.8" height="29.8"/>
<rect x="889.22" y="940.1" width="29.8" height="29.8"/>
<rect x="923.3" y="937.1" width="29.8" height="29.8"/>
<rect x="957.38" y="931.1" width="29.8" height="29.8"/>
<rect x="991.46" y="936.1" width="29.8" height="29.8"/>
<rect x="1025.54" y="938.1" width="29.8" height="29.8"/>
<rect x="1059.62" y="935.1" width="29.8" height="29.8"/>
<rect x="1093.7" y="934.1" width="29.8" height="29.8"/>
<rect x="1127.78" y="942.1" width="29.8" height="29.8"/>
<rect x="1161.86" y="937.1" width="29.8" height="29.8"/>
</g>
<polyline points="767.8,942 784.84,947 801.88,945 818.92,946 835.96,944 853,945 870.04,941 887.08,944 904.12,946 921.16,947 938.2,944 955.24,945 972.28,940 989.32,944 1006.36,945 1023.4,946 1040.44,941 1057.48,945 1074.52,944 1091.56,945 1108.6,942 1125.64,944 1142.68,945 1172.5,944 1176.76,943" fill="none" stroke="#000000" stroke-width="6.6" stroke-linejoin="round" stroke-linecap="butt"/>
<g fill="none" stroke="#000000" stroke-width="4.4" stroke-linejoin="miter">
<path d="M752.9 927.1L782.7 927.1L767.8 956.9Z"/>
<path d="M786.98 930.1L816.78 930.1L801.88 959.9Z"/>
<path d="M821.06 929.1L850.86 929.1L835.96 958.9Z"/>
<path d="M855.14 926.1L884.94 926.1L870.04 955.9Z"/>
<path d="M889.22 931.1L919.02 931.1L904.12 960.9Z"/>
<path d="M923.3 929.1L953.1 929.1L938.2 958.9Z"/>
<path d="M957.38 925.1L987.18 925.1L972.28 954.9Z"/>
<path d="M991.46 930.1L1021.26 930.1L1006.36 959.9Z"/>
<path d="M1025.54 926.1L1055.34 926.1L1040.44 955.9Z"/>
<path d="M1059.62 929.1L1089.42 929.1L1074.52 958.9Z"/>
<path d="M1093.7 927.1L1123.5 927.1L1108.6 956.9Z"/>
<path d="M1127.78 930.1L1157.58 930.1L1142.68 959.9Z"/>
<path d="M1161.86 928.1L1191.66 928.1L1176.76 957.9Z"/>
</g>
<polyline points="767.8,955.1 784.84,945 801.88,950.2 818.92,948 835.96,955.1 853,946 870.04,952.7 887.08,950 904.12,948.5 921.16,946 938.2,947.8 955.24,947 972.28,949 989.32,949 1006.36,943 1023.4,947 1040.44,945.4 1057.48,946 1074.52,943 1091.56,947 1108.6,948.5 1125.64,946 1142.68,944.2 1172.5,946 1176.76,946" fill="none" stroke="#0000ff" stroke-width="6.6" stroke-linejoin="round" stroke-linecap="butt"/>
<g fill="none" stroke="#0000ff" stroke-width="4.4" stroke-linejoin="miter">
<path d="M767.8 934.03L780.44 955.1L767.8 976.17L755.16 955.1Z"/>
<path d="M801.88 929.13L814.52 950.2L801.88 971.27L789.24 950.2Z"/>
<path d="M835.96 934.03L848.6 955.1L835.96 976.17L823.32 955.1Z"/>
<path d="M870.04 931.63L882.68 952.7L870.04 973.77L857.4 952.7Z"/>
<path d="M904.12 927.43L916.76 948.5L904.12 969.57L891.48 948.5Z"/>
<path d="M938.2 926.73L950.84 947.8L938.2 968.87L925.56 947.8Z"/>
<path d="M972.28 927.93L984.92 949L972.28 970.07L959.64 949Z"/>
<path d="M1006.36 921.93L1019 943L1006.36 964.07L993.72 943Z"/>
<path d="M1040.44 924.33L1053.08 945.4L1040.44 966.47L1027.8 945.4Z"/>
<path d="M1074.52 921.93L1087.16 943L1074.52 964.07L1061.88 943Z"/>
<path d="M1108.6 927.43L1121.24 948.5L1108.6 969.57L1095.96 948.5Z"/>
<path d="M1142.68 923.13L1155.32 944.2L1142.68 965.27L1130.04 944.2Z"/>
<path d="M1176.76 924.93L1189.4 946L1176.76 967.07L1164.12 946Z"/>
</g>
</g>
<g stroke="#000">
<path d="M767.8 1134v-13M767.8 761.3v13" stroke-width="2.2"/>
<path d="M789.1 1134v-13M789.1 761.3v13" stroke-width="2.2"/>
<path d="M810.4 1134v-13M810.4 761.3v13" stroke-width="2.2"/>
<path d="M831.7 1134v-13M831.7 761.3v13" stroke-width="2.2"/>
<path d="M874.3 1134v-13M874.3 761.3v13" stroke-width="2.2"/>
<path d="M895.6 1134v-13M895.6 761.3v13" stroke-width="2.2"/>
<path d="M916.9 1134v-13M916.9 761.3v13" stroke-width="2.2"/>
<path d="M938.2 1134v-13M938.2 761.3v13" stroke-width="2.2"/>
<path d="M980.8 1134v-13M980.8 761.3v13" stroke-width="2.2"/>
<path d="M1002.1 1134v-13M1002.1 761.3v13" stroke-width="2.2"/>
<path d="M1023.4 1134v-13M1023.4 761.3v13" stroke-width="2.2"/>
<path d="M1044.7 1134v-13M1044.7 761.3v13" stroke-width="2.2"/>
<path d="M1087.3 1134v-13M1087.3 761.3v13" stroke-width="2.2"/>
<path d="M1108.6 1134v-13M1108.6 761.3v13" stroke-width="2.2"/>
<path d="M1129.9 1134v-13M1129.9 761.3v13" stroke-width="2.2"/>
<path d="M1151.2 1134v-13M1151.2 761.3v13" stroke-width="2.2"/>
<path d="M853 1134v-18M853 761.3v18" stroke-width="4.3"/>
<path d="M959.5 1134v-18M959.5 761.3v18" stroke-width="4.3"/>
<path d="M1066 1134v-18M1066 761.3v18" stroke-width="4.3"/>
<path d="M746.5 1096.73h13M1172.5 1096.73h-13" stroke-width="2.2"/>
<path d="M746.5 1059.46h18M1172.5 1059.46h-18" stroke-width="4.3"/>
<path d="M746.5 1022.19h13M1172.5 1022.19h-13" stroke-width="2.2"/>
<path d="M746.5 984.92h18M1172.5 984.92h-18" stroke-width="4.3"/>
<path d="M746.5 947.65h13M1172.5 947.65h-13" stroke-width="2.2"/>
<path d="M746.5 910.38h18M1172.5 910.38h-18" stroke-width="4.3"/>
<path d="M746.5 873.11h13M1172.5 873.11h-13" stroke-width="2.2"/>
<path d="M746.5 835.84h18M1172.5 835.84h-18" stroke-width="4.3"/>
<path d="M746.5 798.57h13M1172.5 798.57h-13" stroke-width="2.2"/>
</g>
<rect x="746.5" y="761.3" width="426" height="372.7" fill="none" stroke="#000" stroke-width="4.3"/>
<g font-family="'DejaVu Sans', 'Liberation Sans', sans-serif" font-size="41.7" fill="#000">
<text x="736.7" y="1145.55" text-anchor="end">0.0</text>
<text x="736.7" y="1070.76" text-anchor="end">0.2</text>
<text x="736.7" y="995.97" text-anchor="end">0.4</text>
<text x="736.7" y="921.18" text-anchor="end">0.6</text>
<text x="736.7" y="846.39" text-anchor="end">0.8</text>
<text x="736.7" y="771.6" text-anchor="end">1.0</text>
<text x="746.5" y="1174.3" text-anchor="middle">0</text>
<text x="853" y="1174.3" text-anchor="middle">5</text>
<text x="959.5" y="1174.3" text-anchor="middle">10</text>
<text x="1066" y="1174.3" text-anchor="middle">15</text>
<text x="1172.5" y="1174.3" text-anchor="middle">20</text>
</g>
<g clip-path="url(#clipf)">
<polyline points="1321.8,921.4 1339.57,920 1357.35,918 1375.12,916 1392.9,915 1410.67,913 1428.45,910.7 1446.22,906 1464,901 1481.78,903 1499.55,904.6 1517.32,906 1535.1,907 1552.88,905 1570.65,902.2 1588.42,902 1606.2,901 1623.97,902 1641.75,902.2 1659.53,904 1677.3,906 1695.07,905 1712.85,904.6 1726.3,905" fill="none" stroke="#6b6b6b" stroke-width="6.6" stroke-linejoin="round" stroke-linecap="butt"/>
<g fill="none" stroke="#6b6b6b" stroke-width="4.4" stroke-linejoin="miter">
<circle cx="1321.8" cy="921.4" r="14.9"/>
<circle cx="1357.35" cy="918" r="14.9"/>
<circle cx="1392.9" cy="915" r="14.9"/>
<circle cx="1428.45" cy="910.7" r="14.9"/>
<circle cx="1464" cy="901" r="14.9"/>
<circle cx="1499.55" cy="904.6" r="14.9"/>
<circle cx="1535.1" cy="907" r="14.9"/>
<circle cx="1570.65" cy="902.2" r="14.9"/>
<circle cx="1606.2" cy="901" r="14.9"/>
<circle cx="1641.75" cy="902.2" r="14.9"/>
<circle cx="1677.3" cy="906" r="14.9"/>
<circle cx="1712.85" cy="904.6" r="14.9"/>
</g>
<polyline points="1321.8,915.8 1339.57,918 1357.35,920.7 1375.12,918 1392.9,914.6 1410.67,912 1428.45,908.5 1446.22,908 1464,907.3 1481.78,909 1499.55,911 1517.32,911 1535.1,911 1552.88,911 1570.65,912.2 1588.42,912 1606.2,913 1623.97,912 1641.75,911 1659.53,911 1677.3,912 1695.07,912 1712.85,913 1726.3,912" fill="none" stroke="#ff0000" stroke-width="6.6" stroke-linejoin="round" stroke-linecap="butt"/>
<g fill="none" stroke="#ff0000" stroke-width="4.4" stroke-linejoin="miter">
<rect x="1306.9" y="900.9" width="29.8" height="29.8"/>
<rect x="1342.45" y="905.8" width="29.8" height="29.8"/>
<rect x="1378" y="899.7" width="29.8" height="29.8"/>
<rect x="1413.55" y="893.6" width="29.8" height="29.8"/>
<rect x="1449.1" y="892.4" width="29.8" height="29.8"/>
<rect x="1484.65" y="896.1" width="29.8" height="29.8"/>
<rect x="1520.2" y="896.1" width="29.8" height="29.8"/>
<rect x="1555.75" y="897.3" width="29.8" height="29.8"/>
<rect x="1591.3" y="898.1" width="29.8" height="29.8"/>
<rect x="1626.85" y="896.1" width="29.8" height="29.8"/>
<rect x="1662.4" y="897.1" width="29.8" height="29.8"/>
<rect x="1697.95" y="898.1" width="29.8" height="29.8"/>
</g>
<polyline points="1321.8,918.3 1339.57,921 1357.35,926.8 1375.12,921 1392.9,915.8 1410.67,920 1428.45,924.4 1446.22,921 1464,919.5 1481.78,917 1499.55,914.6 1517.32,915 1535.1,915.8 1552.88,914 1570.65,911 1588.42,910 1606.2,907.3 1623.97,914 1641.75,920.7 1659.53,912 1677.3,903.6 1695.07,908 1712.85,911 1726.3,911" fill="none" stroke="#000000" stroke-width="6.6" stroke-linejoin="round" stroke-linecap="butt"/>
<g fill="none" stroke="#000000" stroke-width="4.4" stroke-linejoin="miter">
<path d="M1306.9 903.4L1336.7 903.4L1321.8 933.2Z"/>
<path d="M1342.45 911.9L1372.25 911.9L1357.35 941.7Z"/>
<path d="M1378 900.9L1407.8 900.9L1392.9 930.7Z"/>
<path d="M1413.55 909.5L1443.35 909.5L1428.45 939.3Z"/>
<path d="M1449.1 904.6L1478.9 904.6L1464 934.4Z"/>
<path d="M1484.65 899.7L1514.45 899.7L1499.55 929.5Z"/>
<path d="M1520.2 900.9L1550 900.9L1535.1 930.7Z"/>
<path d="M1555.75 896.1L1585.55 896.1L1570.65 925.9Z"/>
<path d="M1591.3 892.4L1621.1 892.4L1606.2 922.2Z"/>
<path d="M1626.85 905.8L1656.65 905.8L1641.75 935.6Z"/>
<path d="M1662.4 888.7L1692.2 888.7L1677.3 918.5Z"/>
<path d="M1697.95 896.1L1727.75 896.1L1712.85 925.9Z"/>
</g>
<polyline points="1321.8,917.8 1339.57,920 1357.35,926.3 1375.12,922 1392.9,931.2 1400,933 1410.67,925 1428.45,919 1446.22,918 1464,919 1481.78,918 1499.55,922.7 1517.32,914 1535.1,923.9 1552.88,916 1570.65,914.1 1588.42,912 1606.2,910.5 1623.97,912 1641.75,922.7 1659.53,914 1677.3,922.7 1695.07,918 1712.85,920.2 1726.3,917" fill="none" stroke="#0000ff" stroke-width="6.6" stroke-linejoin="round" stroke-linecap="butt"/>
<g fill="none" stroke="#0000ff" stroke-width="4.4" stroke-linejoin="miter">
<path d="M1321.8 896.73L1334.44 917.8L1321.8 938.87L1309.16 917.8Z"/>
<path d="M1357.35 905.23L1369.99 926.3L1357.35 947.37L1344.71 926.3Z"/>
<path d="M1392.9 910.13L1405.54 931.2L1392.9 952.27L1380.26 931.2Z"/>
<path d="M1428.45 897.93L1441.09 919L1428.45 940.07L1415.81 919Z"/>
<path d="M1464 897.93L1476.64 919L1464 940.07L1451.36 919Z"/>
<path d="M1499.55 901.63L1512.19 922.7L1499.55 943.77L1486.91 922.7Z"/>
<path d="M1535.1 902.83L1547.74 923.9L1535.1 944.97L1522.46 923.9Z"/>
<path d="M1570.65 893.03L1583.29 914.1L1570.65 935.17L1558.01 914.1Z"/>
<path d="M1606.2 889.43L1618.84 910.5L1606.2 931.57L1593.56 910.5Z"/>
<path d="M1641.75 901.63L1654.39 922.7L1641.75 943.77L1629.11 922.7Z"/>
<path d="M1677.3 901.63L1689.94 922.7L1677.3 943.77L1664.66 922.7Z"/>
<path d="M1712.85 899.13L1725.49 920.2L1712.85 941.27L1700.21 920.2Z"/>
</g>
</g>
<g stroke="#000">
<path d="M1326.64 1134v-13M1326.64 761.3v13" stroke-width="2.2"/>
<path d="M1353.29 1134v-13M1353.29 761.3v13" stroke-width="2.2"/>
<path d="M1379.93 1134v-13M1379.93 761.3v13" stroke-width="2.2"/>
<path d="M1406.58 1134v-13M1406.58 761.3v13" stroke-width="2.2"/>
<path d="M1459.86 1134v-13M1459.86 761.3v13" stroke-width="2.2"/>
<path d="M1486.51 1134v-13M1486.51 761.3v13" stroke-width="2.2"/>
<path d="M1513.15 1134v-13M1513.15 761.3v13" stroke-width="2.2"/>
<path d="M1539.79 1134v-13M1539.79 761.3v13" stroke-width="2.2"/>
<path d="M1593.08 1134v-13M1593.08 761.3v13" stroke-width="2.2"/>
<path d="M1619.72 1134v-13M1619.72 761.3v13" stroke-width="2.2"/>
<path d="M1646.37 1134v-13M1646.37 761.3v13" stroke-width="2.2"/>
<path d="M1673.01 1134v-13M1673.01 761.3v13" stroke-width="2.2"/>
<path d="M1433.22 1134v-18M1433.22 761.3v18" stroke-width="4.3"/>
<path d="M1566.44 1134v-18M1566.44 761.3v18" stroke-width="4.3"/>
<path d="M1699.66 1134v-18M1699.66 761.3v18" stroke-width="4.3"/>
<path d="M1300 1096.73h13M1726.3 1096.73h-13" stroke-width="2.2"/>
<path d="M1300 1059.46h18M1726.3 1059.46h-18" stroke-width="4.3"/>
<path d="M1300 1022.19h13M1726.3 1022.19h-13" stroke-width="2.2"/>
<path d="M1300 984.92h18M1726.3 984.92h-18" stroke-width="4.3"/>
<path d="M1300 947.65h13M1726.3 947.65h-13" stroke-width="2.2"/>
<path d="M1300 910.38h18M1726.3 910.38h-18" stroke-width="4.3"/>
<path d="M1300 873.11h13M1726.3 873.11h-13" stroke-width="2.2"/>
<path d="M1300 835.84h18M1726.3 835.84h-18" stroke-width="4.3"/>
<path d="M1300 798.57h13M1726.3 798.57h-13" stroke-width="2.2"/>
</g>
<rect x="1300" y="761.3" width="426.3" height="372.7" fill="none" stroke="#000" stroke-width="4.3"/>
<g font-family="'DejaVu Sans', 'Liberation Sans', sans-serif" font-size="41.7" fill="#000">
<text x="1290.2" y="1145.55" text-anchor="end">0.0</text>
<text x="1290.2" y="1070.76" text-anchor="end">0.2</text>
<text x="1290.2" y="995.97" text-anchor="end">0.4</text>
<text x="1290.2" y="921.18" text-anchor="end">0.6</text>
<text x="1290.2" y="846.39" text-anchor="end">0.8</text>
<text x="1290.2" y="771.6" text-anchor="end">1.0</text>
<text x="1300" y="1174.3" text-anchor="middle">0</text>
<text x="1433.22" y="1174.3" text-anchor="middle">5</text>
<text x="1566.44" y="1174.3" text-anchor="middle">10</text>
<text x="1699.66" y="1174.3" text-anchor="middle">15</text>
</g>
<rect x="458" y="293.3" width="104.3" height="64.3" rx="10" ry="10" fill="#dfdfdf" stroke="#c8c8c8" stroke-width="1.6"/>
<text x="470.39" y="335.7" font-family="'DejaVu Sans', sans-serif" font-size="41.7" textLength="79.8" lengthAdjust="spacingAndGlyphs">LCA</text>
<rect x="1011.1" y="293.3" width="104.7" height="64.3" rx="10" ry="10" fill="#dfdfdf" stroke="#c8c8c8" stroke-width="1.6"/>
<text x="1023.5" y="335.7" font-family="'DejaVu Sans', sans-serif" font-size="41.7" textLength="79.48" lengthAdjust="spacingAndGlyphs">LCA</text>
<rect x="1565.6" y="293.3" width="103.9" height="64.3" rx="10" ry="10" fill="#dfdfdf" stroke="#c8c8c8" stroke-width="1.6"/>
<text x="1578.01" y="335.7" font-family="'DejaVu Sans', sans-serif" font-size="41.7" textLength="79.38" lengthAdjust="spacingAndGlyphs">LCA</text>
<rect x="411.2" y="988.4" width="163.7" height="63" rx="10" ry="10" fill="#dfdfdf" stroke="#c8c8c8" stroke-width="1.6"/>
<text x="421.95" y="1030.4" font-family="'DejaVu Sans', sans-serif" font-size="41.7">mDDM</text>
<rect x="964.9" y="988.4" width="163.7" height="63" rx="10" ry="10" fill="#dfdfdf" stroke="#c8c8c8" stroke-width="1.6"/>
<text x="976.25" y="1030.4" font-family="'DejaVu Sans', sans-serif" font-size="41.7">mDDM</text>
<rect x="1518.3" y="988.4" width="163.9" height="63" rx="10" ry="10" fill="#dfdfdf" stroke="#c8c8c8" stroke-width="1.6"/>
<text x="1529.13" y="1030.4" font-family="'DejaVu Sans', sans-serif" font-size="41.7">mDDM</text>
<text x="188.67" y="31.8" font-family="'DejaVu Sans', sans-serif" font-size="41.7">(a)</text>
<text x="261.82" y="31.8" font-family="'Liberation Serif', 'DejaVu Serif', serif" font-size="41.7" textLength="28.18" lengthAdjust="spacingAndGlyphs" stroke="#000" stroke-width="0.75">ϒ</text>
<text x="293.85" y="38.6" font-family="'Liberation Serif', 'DejaVu Serif', serif" font-size="29.2" font-style="italic" textLength="25.86" lengthAdjust="spacingAndGlyphs">m</text>
<text x="328.71" y="35.14" font-family="'Liberation Serif', 'DejaVu Serif', serif" font-size="41.7" textLength="33.72" lengthAdjust="spacingAndGlyphs">=</text>
<text x="369.48" y="31.8" font-family="'Liberation Serif', 'DejaVu Serif', serif" font-size="41.7" textLength="20.43" lengthAdjust="spacingAndGlyphs">4</text>
<text x="390.68" y="31.8" font-family="'DejaVu Sans', sans-serif" font-size="41.7" textLength="13.61" lengthAdjust="spacingAndGlyphs">,</text>
<text x="418" y="31.8" font-family="'Liberation Serif', 'DejaVu Serif', serif" font-size="41.7" textLength="28.99" lengthAdjust="spacingAndGlyphs" stroke="#000" stroke-width="0.75">ϒ</text>
<text x="452.23" y="40.1" font-family="'Liberation Serif', 'DejaVu Serif', serif" font-size="29.2" font-style="italic" textLength="10.39" lengthAdjust="spacingAndGlyphs">f</text>
<text x="474.12" y="35.14" font-family="'Liberation Serif', 'DejaVu Serif', serif" font-size="41.7" textLength="34.69" lengthAdjust="spacingAndGlyphs">=</text>
<text x="513.61" y="31.8" font-family="'Liberation Serif', 'DejaVu Serif', serif" font-size="41.7" textLength="44.46" lengthAdjust="spacingAndGlyphs">10</text>
<text x="569.19" y="31.8" font-family="'DejaVu Sans', sans-serif" font-size="41.7" textLength="53.88" lengthAdjust="spacingAndGlyphs">Hz</text>
<text x="188.64" y="741.4" font-family="'DejaVu Sans', sans-serif" font-size="41.7">(d)</text>
<text x="261.82" y="741.4" font-family="'Liberation Serif', 'DejaVu Serif', serif" font-size="41.7" textLength="28.18" lengthAdjust="spacingAndGlyphs" stroke="#000" stroke-width="0.75">ϒ</text>
<text x="293.85" y="748.2" font-family="'Liberation Serif', 'DejaVu Serif', serif" font-size="29.2" font-style="italic" textLength="25.86" lengthAdjust="spacingAndGlyphs">m</text>
<text x="328.71" y="744.74" font-family="'Liberation Serif', 'DejaVu Serif', serif" font-size="41.7" textLength="33.72" lengthAdjust="spacingAndGlyphs">=</text>
<text x="369.48" y="741.4" font-family="'Liberation Serif', 'DejaVu Serif', serif" font-size="41.7" textLength="20.43" lengthAdjust="spacingAndGlyphs">4</text>
<text x="390.68" y="741.4" font-family="'DejaVu Sans', sans-serif" font-size="41.7" textLength="13.61" lengthAdjust="spacingAndGlyphs">,</text>
<text x="418" y="741.4" font-family="'Liberation Serif', 'DejaVu Serif', serif" font-size="41.7" textLength="28.99" lengthAdjust="spacingAndGlyphs" stroke="#000" stroke-width="0.75">ϒ</text>
<text x="452.23" y="749.7" font-family="'Liberation Serif', 'DejaVu Serif', serif" font-size="29.2" font-style="italic" textLength="10.39" lengthAdjust="spacingAndGlyphs">f</text>
<text x="474.12" y="744.74" font-family="'Liberation Serif', 'DejaVu Serif', serif" font-size="41.7" textLength="34.69" lengthAdjust="spacingAndGlyphs">=</text>
<text x="513.61" y="741.4" font-family="'Liberation Serif', 'DejaVu Serif', serif" font-size="41.7" textLength="44.46" lengthAdjust="spacingAndGlyphs">10</text>
<text x="569.19" y="741.4" font-family="'DejaVu Sans', sans-serif" font-size="41.7" textLength="53.88" lengthAdjust="spacingAndGlyphs">Hz</text>
<text x="798.66" y="31.8" font-family="'DejaVu Sans', sans-serif" font-size="41.7">(b)</text>
<text x="872.33" y="31.8" font-family="'Liberation Serif', 'DejaVu Serif', serif" font-size="41.7" font-style="italic" textLength="19.81" lengthAdjust="spacingAndGlyphs">ρ</text>
<text x="891.58" y="38.6" font-family="'Liberation Serif', 'DejaVu Serif', serif" font-size="29.2" font-style="italic" textLength="27.32" lengthAdjust="spacingAndGlyphs">m</text>
<text x="927.31" y="35.14" font-family="'Liberation Serif', 'DejaVu Serif', serif" font-size="41.7" textLength="33.72" lengthAdjust="spacingAndGlyphs">=</text>
<text x="967.3" y="31.8" font-family="'Liberation Serif', 'DejaVu Serif', serif" font-size="41.7" textLength="21.13" lengthAdjust="spacingAndGlyphs">1</text>
<text x="987.83" y="31.8" font-family="'DejaVu Sans', sans-serif" font-size="41.7" textLength="13.83" lengthAdjust="spacingAndGlyphs">,</text>
<text x="1017.16" y="31.8" font-family="'Liberation Serif', 'DejaVu Serif', serif" font-size="41.7" font-style="italic" textLength="20.41" lengthAdjust="spacingAndGlyphs">ρ</text>
<text x="1037.81" y="40.1" font-family="'Liberation Serif', 'DejaVu Serif', serif" font-size="29.2" font-style="italic" textLength="10.82" lengthAdjust="spacingAndGlyphs">f</text>
<text x="1059.6" y="35.14" font-family="'Liberation Serif', 'DejaVu Serif', serif" font-size="41.7" textLength="33.84" lengthAdjust="spacingAndGlyphs">=</text>
<text x="1099.75" y="31.8" font-family="'Liberation Serif', 'DejaVu Serif', serif" font-size="41.7">1</text>
<text x="798.85" y="741.4" font-family="'DejaVu Sans', sans-serif" font-size="41.7">(e)</text>
<text x="872.33" y="741.4" font-family="'Liberation Serif', 'DejaVu Serif', serif" font-size="41.7" font-style="italic" textLength="19.81" lengthAdjust="spacingAndGlyphs">ρ</text>
<text x="891.58" y="748.2" font-family="'Liberation Serif', 'DejaVu Serif', serif" font-size="29.2" font-style="italic" textLength="27.32" lengthAdjust="spacingAndGlyphs">m</text>
<text x="927.31" y="744.74" font-family="'Liberation Serif', 'DejaVu Serif', serif" font-size="41.7" textLength="33.72" lengthAdjust="spacingAndGlyphs">=</text>
<text x="967.3" y="741.4" font-family="'Liberation Serif', 'DejaVu Serif', serif" font-size="41.7" textLength="21.13" lengthAdjust="spacingAndGlyphs">1</text>
<text x="987.83" y="741.4" font-family="'DejaVu Sans', sans-serif" font-size="41.7" textLength="13.83" lengthAdjust="spacingAndGlyphs">,</text>
<text x="1017.16" y="741.4" font-family="'Liberation Serif', 'DejaVu Serif', serif" font-size="41.7" font-style="italic" textLength="20.41" lengthAdjust="spacingAndGlyphs">ρ</text>
<text x="1037.81" y="749.7" font-family="'Liberation Serif', 'DejaVu Serif', serif" font-size="29.2" font-style="italic" textLength="10.82" lengthAdjust="spacingAndGlyphs">f</text>
<text x="1059.6" y="744.74" font-family="'Liberation Serif', 'DejaVu Serif', serif" font-size="41.7" textLength="33.84" lengthAdjust="spacingAndGlyphs">=</text>
<text x="1099.75" y="741.4" font-family="'Liberation Serif', 'DejaVu Serif', serif" font-size="41.7">1</text>
<text x="1311.74" y="31.8" font-family="'DejaVu Sans', sans-serif" font-size="41.7">(c)</text>
<text x="1382.16" y="31.8" font-family="'Liberation Serif', 'DejaVu Serif', serif" font-size="41.7" font-style="italic" textLength="20.41" lengthAdjust="spacingAndGlyphs">ρ</text>
<text x="1402.35" y="38.6" font-family="'Liberation Serif', 'DejaVu Serif', serif" font-size="29.2" font-style="italic" textLength="25.86" lengthAdjust="spacingAndGlyphs">m</text>
<text x="1437.41" y="35.14" font-family="'Liberation Serif', 'DejaVu Serif', serif" font-size="41.7" textLength="33.72" lengthAdjust="spacingAndGlyphs">=</text>
<text x="1476.87" y="31.8" font-family="'Liberation Serif', 'DejaVu Serif', serif" font-size="41.7">4</text>
<text x="1500.2" y="42.07" font-family="'Liberation Serif', 'DejaVu Serif', serif" font-size="63.28" textLength="16.62" lengthAdjust="spacingAndGlyphs">/</text>
<text x="1518.66" y="31.8" font-family="'Liberation Serif', 'DejaVu Serif', serif" font-size="41.7" textLength="21.45" lengthAdjust="spacingAndGlyphs">3</text>
<text x="1539.34" y="31.8" font-family="'DejaVu Sans', sans-serif" font-size="41.7" textLength="15.84" lengthAdjust="spacingAndGlyphs">,</text>
<text x="1569.19" y="31.8" font-family="'Liberation Serif', 'DejaVu Serif', serif" font-size="41.7" font-style="italic" textLength="20.92" lengthAdjust="spacingAndGlyphs">ρ</text>
<text x="1589" y="40.1" font-family="'Liberation Serif', 'DejaVu Serif', serif" font-size="29.2" font-style="italic" textLength="11.19" lengthAdjust="spacingAndGlyphs">f</text>
<text x="1611.91" y="35.14" font-family="'Liberation Serif', 'DejaVu Serif', serif" font-size="41.7" textLength="33.72" lengthAdjust="spacingAndGlyphs">=</text>
<text x="1650.68" y="31.8" font-family="'Liberation Serif', 'DejaVu Serif', serif" font-size="41.7" textLength="22.3" lengthAdjust="spacingAndGlyphs">3</text>
<text x="1674.7" y="42.07" font-family="'Liberation Serif', 'DejaVu Serif', serif" font-size="63.28" textLength="16.62" lengthAdjust="spacingAndGlyphs">/</text>
<text x="1693.68" y="31.8" font-family="'Liberation Serif', 'DejaVu Serif', serif" font-size="41.7" textLength="21.37" lengthAdjust="spacingAndGlyphs">2</text>
<text x="1315.99" y="741.4" font-family="'DejaVu Sans', sans-serif" font-size="41.7" textLength="46.71" lengthAdjust="spacingAndGlyphs">(f)</text>
<text x="1378.06" y="741.4" font-family="'Liberation Serif', 'DejaVu Serif', serif" font-size="41.7" font-style="italic" textLength="20.41" lengthAdjust="spacingAndGlyphs">ρ</text>
<text x="1398.25" y="748.2" font-family="'Liberation Serif', 'DejaVu Serif', serif" font-size="29.2" font-style="italic" textLength="25.86" lengthAdjust="spacingAndGlyphs">m</text>
<text x="1433.31" y="744.74" font-family="'Liberation Serif', 'DejaVu Serif', serif" font-size="41.7" textLength="33.72" lengthAdjust="spacingAndGlyphs">=</text>
<text x="1472.77" y="741.4" font-family="'Liberation Serif', 'DejaVu Serif', serif" font-size="41.7">4</text>
<text x="1496.1" y="751.67" font-family="'Liberation Serif', 'DejaVu Serif', serif" font-size="63.28" textLength="16.62" lengthAdjust="spacingAndGlyphs">/</text>
<text x="1514.56" y="741.4" font-family="'Liberation Serif', 'DejaVu Serif', serif" font-size="41.7" textLength="21.45" lengthAdjust="spacingAndGlyphs">3</text>
<text x="1535.24" y="741.4" font-family="'DejaVu Sans', sans-serif" font-size="41.7" textLength="15.84" lengthAdjust="spacingAndGlyphs">,</text>
<text x="1565.09" y="741.4" font-family="'Liberation Serif', 'DejaVu Serif', serif" font-size="41.7" font-style="italic" textLength="20.92" lengthAdjust="spacingAndGlyphs">ρ</text>
<text x="1584.9" y="749.7" font-family="'Liberation Serif', 'DejaVu Serif', serif" font-size="29.2" font-style="italic" textLength="11.19" lengthAdjust="spacingAndGlyphs">f</text>
<text x="1607.81" y="744.74" font-family="'Liberation Serif', 'DejaVu Serif', serif" font-size="41.7" textLength="33.72" lengthAdjust="spacingAndGlyphs">=</text>
<text x="1646.58" y="741.4" font-family="'Liberation Serif', 'DejaVu Serif', serif" font-size="41.7" textLength="22.3" lengthAdjust="spacingAndGlyphs">3</text>
<text x="1670.6" y="751.67" font-family="'Liberation Serif', 'DejaVu Serif', serif" font-size="63.28" textLength="16.62" lengthAdjust="spacingAndGlyphs">/</text>
<text x="1689.58" y="741.4" font-family="'Liberation Serif', 'DejaVu Serif', serif" font-size="41.7" textLength="21.37" lengthAdjust="spacingAndGlyphs">2</text>
<text x="385.28" y="520" font-family="'Liberation Serif', 'DejaVu Serif', serif" font-size="52" font-style="italic" textLength="24.56" lengthAdjust="spacingAndGlyphs">ρ</text>
<text x="410.14" y="526.5" font-family="'Liberation Serif', 'DejaVu Serif', serif" font-size="36.4" font-style="italic" textLength="12.86" lengthAdjust="spacingAndGlyphs">f</text>
<text x="870.94" y="527" font-family="'Liberation Serif', 'DejaVu Serif', serif" font-size="52" textLength="34.56" lengthAdjust="spacingAndGlyphs" stroke="#000" stroke-width="0.94">ϒ</text>
<text x="911.63" y="534" font-family="'Liberation Serif', 'DejaVu Serif', serif" font-size="36.4" font-style="italic" textLength="13.15" lengthAdjust="spacingAndGlyphs">f</text>
<text x="946.82" y="527" font-family="'DejaVu Sans', sans-serif" font-size="52">(Hz)</text>
<text x="1424.64" y="527" font-family="'Liberation Serif', 'DejaVu Serif', serif" font-size="52" textLength="34.56" lengthAdjust="spacingAndGlyphs" stroke="#000" stroke-width="0.94">ϒ</text>
<text x="1465.33" y="534" font-family="'Liberation Serif', 'DejaVu Serif', serif" font-size="36.4" font-style="italic" textLength="13.15" lengthAdjust="spacingAndGlyphs">f</text>
<text x="1500.52" y="527" font-family="'DejaVu Sans', sans-serif" font-size="52">(Hz)</text>
<text x="385.28" y="1229.6" font-family="'Liberation Serif', 'DejaVu Serif', serif" font-size="52" font-style="italic" textLength="24.56" lengthAdjust="spacingAndGlyphs">ρ</text>
<text x="410.14" y="1236.1" font-family="'Liberation Serif', 'DejaVu Serif', serif" font-size="36.4" font-style="italic" textLength="12.86" lengthAdjust="spacingAndGlyphs">f</text>
<text x="870.94" y="1236.6" font-family="'Liberation Serif', 'DejaVu Serif', serif" font-size="52" textLength="34.56" lengthAdjust="spacingAndGlyphs" stroke="#000" stroke-width="0.94">ϒ</text>
<text x="911.63" y="1243.6" font-family="'Liberation Serif', 'DejaVu Serif', serif" font-size="36.4" font-style="italic" textLength="13.15" lengthAdjust="spacingAndGlyphs">f</text>
<text x="946.82" y="1236.6" font-family="'DejaVu Sans', sans-serif" font-size="52">(Hz)</text>
<text x="1424.64" y="1236.6" font-family="'Liberation Serif', 'DejaVu Serif', serif" font-size="52" textLength="34.56" lengthAdjust="spacingAndGlyphs" stroke="#000" stroke-width="0.94">ϒ</text>
<text x="1465.33" y="1243.6" font-family="'Liberation Serif', 'DejaVu Serif', serif" font-size="36.4" font-style="italic" textLength="13.15" lengthAdjust="spacingAndGlyphs">f</text>
<text x="1500.52" y="1236.6" font-family="'DejaVu Sans', sans-serif" font-size="52">(Hz)</text>
<text transform="rotate(-90)" x="-1028.44" y="45.8" font-family="'DejaVu Sans', sans-serif" font-size="60.4">probability option 1</text>
<text transform="rotate(-90)" x="-417.49" y="45" font-family="'Liberation Serif', 'DejaVu Serif', serif" font-size="63" font-style="italic">Pr</text>
<text transform="rotate(-90)" x="-350.54" y="45" font-family="'Liberation Serif', 'DejaVu Serif', serif" font-size="63" textLength="20.69" lengthAdjust="spacingAndGlyphs">(</text>
<text transform="rotate(-90)" x="-329.74" y="45" font-family="'Liberation Serif', 'DejaVu Serif', serif" font-size="63" font-style="italic" textLength="78.54" lengthAdjust="spacingAndGlyphs">opt</text>
<text transform="rotate(-90)" x="-249.21" y="45" font-family="'Liberation Serif', 'DejaVu Serif', serif" font-size="63" textLength="29.79" lengthAdjust="spacingAndGlyphs">1</text>
<text transform="rotate(-90)" x="-216.77" y="45" font-family="'Liberation Serif', 'DejaVu Serif', serif" font-size="63" textLength="18.11" lengthAdjust="spacingAndGlyphs">)</text>
<rect x="158" y="554.9" width="456.8" height="114" rx="6.5" ry="6.5" fill="#fff" stroke="#000" stroke-width="2.3"/>
<path d="M178.2 584.2H228.7" stroke="#6b6b6b" stroke-width="3.7"/>
<g fill="none" stroke="#6b6b6b" stroke-width="1.8">
<circle cx="180.4" cy="584.2" r="11.3"/>
<circle cx="226.5" cy="584.2" r="11.3"/>
</g>
<path d="M178.2 634.8H228.7" stroke="#ff0000" stroke-width="3.7"/>
<g fill="none" stroke="#ff0000" stroke-width="1.8">
<rect x="169.1" y="623.5" width="22.6" height="22.6"/>
<rect x="215.2" y="623.5" width="22.6" height="22.6"/>
</g>
<path d="M426 584.2H476.3" stroke="#000000" stroke-width="3.7"/>
<g fill="none" stroke="#000000" stroke-width="1.8">
<path d="M416.9 572.9L439.5 572.9L428.2 595.5Z"/>
<path d="M462.8 572.9L485.4 572.9L474.1 595.5Z"/>
</g>
<path d="M426 634.8H476.3" stroke="#0000ff" stroke-width="3.7"/>
<g fill="none" stroke="#0000ff" stroke-width="1.8">
<path d="M428.2 618.82L437.79 634.8L428.2 650.78L418.61 634.8Z"/>
<path d="M474.1 618.82L483.69 634.8L474.1 650.78L464.51 634.8Z"/>
</g>
<text x="264.34" y="595.1" font-family="'Liberation Serif', 'DejaVu Serif', serif" font-size="34.7" font-style="italic" textLength="16.17" lengthAdjust="spacingAndGlyphs">ρ</text>
<text x="279.52" y="599.4" font-family="'Liberation Serif', 'DejaVu Serif', serif" font-size="24.3" font-style="italic" textLength="20.27" lengthAdjust="spacingAndGlyphs">m</text>
<text x="305.6" y="597.88" font-family="'Liberation Serif', 'DejaVu Serif', serif" font-size="34.7" textLength="25.96" lengthAdjust="spacingAndGlyphs">=</text>
<text x="336.87" y="595.1" font-family="'Liberation Serif', 'DejaVu Serif', serif" font-size="34.7" textLength="16.17" lengthAdjust="spacingAndGlyphs">1</text>
<text x="355.7" y="602.2" font-family="'Liberation Serif', 'DejaVu Serif', serif" font-size="49.85" textLength="12.32" lengthAdjust="spacingAndGlyphs">/</text>
<text x="369" y="595.1" font-family="'Liberation Serif', 'DejaVu Serif', serif" font-size="34.7" textLength="16.85" lengthAdjust="spacingAndGlyphs">3</text>
<text x="264.34" y="646.8" font-family="'Liberation Serif', 'DejaVu Serif', serif" font-size="34.7" font-style="italic" textLength="16.17" lengthAdjust="spacingAndGlyphs">ρ</text>
<text x="279.52" y="651.1" font-family="'Liberation Serif', 'DejaVu Serif', serif" font-size="24.3" font-style="italic" textLength="20.27" lengthAdjust="spacingAndGlyphs">m</text>
<text x="305.6" y="649.58" font-family="'Liberation Serif', 'DejaVu Serif', serif" font-size="34.7" textLength="25.96" lengthAdjust="spacingAndGlyphs">=</text>
<text x="336.87" y="646.8" font-family="'Liberation Serif', 'DejaVu Serif', serif" font-size="34.7" textLength="16.17" lengthAdjust="spacingAndGlyphs">1</text>
<text x="512.34" y="595.1" font-family="'Liberation Serif', 'DejaVu Serif', serif" font-size="34.7" font-style="italic" textLength="16.17" lengthAdjust="spacingAndGlyphs">ρ</text>
<text x="527.52" y="599.4" font-family="'Liberation Serif', 'DejaVu Serif', serif" font-size="24.3" font-style="italic" textLength="20.27" lengthAdjust="spacingAndGlyphs">m</text>
<text x="553.6" y="597.88" font-family="'Liberation Serif', 'DejaVu Serif', serif" font-size="34.7" textLength="25.96" lengthAdjust="spacingAndGlyphs">=</text>
<text x="584.69" y="595.1" font-family="'Liberation Serif', 'DejaVu Serif', serif" font-size="34.7" textLength="17.76" lengthAdjust="spacingAndGlyphs">2</text>
<text x="512.34" y="646.8" font-family="'Liberation Serif', 'DejaVu Serif', serif" font-size="34.7" font-style="italic" textLength="16.17" lengthAdjust="spacingAndGlyphs">ρ</text>
<text x="527.52" y="651.1" font-family="'Liberation Serif', 'DejaVu Serif', serif" font-size="24.3" font-style="italic" textLength="20.27" lengthAdjust="spacingAndGlyphs">m</text>
<text x="553.6" y="649.58" font-family="'Liberation Serif', 'DejaVu Serif', serif" font-size="34.7" textLength="25.96" lengthAdjust="spacingAndGlyphs">=</text>
<text x="584.55" y="646.8" font-family="'Liberation Serif', 'DejaVu Serif', serif" font-size="34.7">3</text>
<rect x="710.9" y="557.2" width="461.95" height="109.5" rx="6.5" ry="6.5" fill="#fff" stroke="#000" stroke-width="2.3"/>
<path d="M732.5 583.8H782.9" stroke="#6b6b6b" stroke-width="3.7"/>
<g fill="none" stroke="#6b6b6b" stroke-width="1.8">
<circle cx="734.7" cy="583.8" r="11.3"/>
<circle cx="780.7" cy="583.8" r="11.3"/>
</g>
<path d="M732.5 634.4H782.9" stroke="#ff0000" stroke-width="3.7"/>
<g fill="none" stroke="#ff0000" stroke-width="1.8">
<rect x="723.4" y="623.1" width="22.6" height="22.6"/>
<rect x="769.4" y="623.1" width="22.6" height="22.6"/>
</g>
<path d="M957.8 583.8H1008.3" stroke="#000000" stroke-width="3.7"/>
<g fill="none" stroke="#000000" stroke-width="1.8">
<path d="M948.7 572.5L971.3 572.5L960 595.1Z"/>
<path d="M994.8 572.5L1017.4 572.5L1006.1 595.1Z"/>
</g>
<path d="M957.8 634.4H1008.3" stroke="#0000ff" stroke-width="3.7"/>
<g fill="none" stroke="#0000ff" stroke-width="1.8">
<path d="M960 618.42L969.59 634.4L960 650.38L950.41 634.4Z"/>
<path d="M1006.1 618.42L1015.69 634.4L1006.1 650.38L996.51 634.4Z"/>
</g>
<text x="817.38" y="594.7" font-family="'Liberation Serif', 'DejaVu Serif', serif" font-size="34.7" textLength="22.4" lengthAdjust="spacingAndGlyphs" stroke="#000" stroke-width="0.62">ϒ</text>
<text x="841.57" y="599.4" font-family="'Liberation Serif', 'DejaVu Serif', serif" font-size="24.3" font-style="italic" textLength="21.27" lengthAdjust="spacingAndGlyphs">m</text>
<text x="869.92" y="597.48" font-family="'Liberation Serif', 'DejaVu Serif', serif" font-size="34.7" textLength="25.71" lengthAdjust="spacingAndGlyphs">=</text>
<text x="901.68" y="594.7" font-family="'Liberation Serif', 'DejaVu Serif', serif" font-size="34.7" textLength="15.48" lengthAdjust="spacingAndGlyphs">4</text>
<text x="817.38" y="645.5" font-family="'Liberation Serif', 'DejaVu Serif', serif" font-size="34.7" textLength="22.4" lengthAdjust="spacingAndGlyphs" stroke="#000" stroke-width="0.62">ϒ</text>
<text x="841.57" y="650.2" font-family="'Liberation Serif', 'DejaVu Serif', serif" font-size="24.3" font-style="italic" textLength="21.27" lengthAdjust="spacingAndGlyphs">m</text>
<text x="869.92" y="648.28" font-family="'Liberation Serif', 'DejaVu Serif', serif" font-size="34.7" textLength="25.71" lengthAdjust="spacingAndGlyphs">=</text>
<text x="901.36" y="645.5" font-family="'Liberation Serif', 'DejaVu Serif', serif" font-size="34.7" textLength="15.79" lengthAdjust="spacingAndGlyphs">6</text>
<text x="1043.28" y="594.7" font-family="'Liberation Serif', 'DejaVu Serif', serif" font-size="34.7" textLength="22.4" lengthAdjust="spacingAndGlyphs" stroke="#000" stroke-width="0.62">ϒ</text>
<text x="1067.47" y="599.4" font-family="'Liberation Serif', 'DejaVu Serif', serif" font-size="24.3" font-style="italic" textLength="21.27" lengthAdjust="spacingAndGlyphs">m</text>
<text x="1095.82" y="597.48" font-family="'Liberation Serif', 'DejaVu Serif', serif" font-size="34.7" textLength="25.71" lengthAdjust="spacingAndGlyphs">=</text>
<text x="1126.83" y="594.7" font-family="'Liberation Serif', 'DejaVu Serif', serif" font-size="34.7" textLength="16.94" lengthAdjust="spacingAndGlyphs">8</text>
<text x="1043.28" y="645.5" font-family="'Liberation Serif', 'DejaVu Serif', serif" font-size="34.7" textLength="22.4" lengthAdjust="spacingAndGlyphs" stroke="#000" stroke-width="0.62">ϒ</text>
<text x="1067.47" y="650.2" font-family="'Liberation Serif', 'DejaVu Serif', serif" font-size="24.3" font-style="italic" textLength="21.27" lengthAdjust="spacingAndGlyphs">m</text>
<text x="1095.82" y="648.28" font-family="'Liberation Serif', 'DejaVu Serif', serif" font-size="34.7" textLength="25.71" lengthAdjust="spacingAndGlyphs">=</text>
<text x="1126.44" y="645.5" font-family="'Liberation Serif', 'DejaVu Serif', serif" font-size="34.7" textLength="33.83" lengthAdjust="spacingAndGlyphs">10</text>
<rect x="1230.7" y="557.1" width="538.9" height="109.6" rx="6.5" ry="6.5" fill="#fff" stroke="#000" stroke-width="2.3"/>
<path d="M1252.2 584H1302.3" stroke="#6b6b6b" stroke-width="3.7"/>
<g fill="none" stroke="#6b6b6b" stroke-width="1.8">
<circle cx="1254.4" cy="584" r="11.3"/>
<circle cx="1300.1" cy="584" r="11.3"/>
</g>
<path d="M1252.2 634.4H1302.3" stroke="#ff0000" stroke-width="3.7"/>
<g fill="none" stroke="#ff0000" stroke-width="1.8">
<rect x="1243.1" y="623.1" width="22.6" height="22.6"/>
<rect x="1288.8" y="623.1" width="22.6" height="22.6"/>
</g>
<path d="M1524.7 584H1574.6" stroke="#000000" stroke-width="3.7"/>
<g fill="none" stroke="#000000" stroke-width="1.8">
<path d="M1515.6 572.7L1538.2 572.7L1526.9 595.3Z"/>
<path d="M1561.1 572.7L1583.7 572.7L1572.4 595.3Z"/>
</g>
<path d="M1524.7 634.4H1574.6" stroke="#0000ff" stroke-width="3.7"/>
<g fill="none" stroke="#0000ff" stroke-width="1.8">
<path d="M1526.9 618.42L1536.49 634.4L1526.9 650.38L1517.31 634.4Z"/>
<path d="M1572.4 618.42L1581.99 634.4L1572.4 650.38L1562.81 634.4Z"/>
</g>
<text x="1337.6" y="594.7" font-family="'Liberation Serif', 'DejaVu Serif', serif" font-size="34.7" textLength="21.59" lengthAdjust="spacingAndGlyphs" stroke="#000" stroke-width="0.62">ϒ</text>
<text x="1361.61" y="599.4" font-family="'Liberation Serif', 'DejaVu Serif', serif" font-size="24.3" font-style="italic" textLength="20.38" lengthAdjust="spacingAndGlyphs">m</text>
<text x="1389.21" y="597.48" font-family="'Liberation Serif', 'DejaVu Serif', serif" font-size="34.7" textLength="25.83" lengthAdjust="spacingAndGlyphs">=</text>
<text x="1420.6" y="594.7" font-family="'Liberation Serif', 'DejaVu Serif', serif" font-size="34.7" textLength="14.79" lengthAdjust="spacingAndGlyphs">3</text>
<text x="1437.44" y="594.7" font-family="'Liberation Serif', 'DejaVu Serif', serif" font-size="34.7" textLength="7.92" lengthAdjust="spacingAndGlyphs">.</text>
<text x="1451.24" y="594.7" font-family="'Liberation Serif', 'DejaVu Serif', serif" font-size="34.7" textLength="17.02" lengthAdjust="spacingAndGlyphs">5</text>
<text x="1337.6" y="645.5" font-family="'Liberation Serif', 'DejaVu Serif', serif" font-size="34.7" textLength="21.59" lengthAdjust="spacingAndGlyphs" stroke="#000" stroke-width="0.62">ϒ</text>
<text x="1361.61" y="650.2" font-family="'Liberation Serif', 'DejaVu Serif', serif" font-size="24.3" font-style="italic" textLength="20.38" lengthAdjust="spacingAndGlyphs">m</text>
<text x="1389.21" y="648.28" font-family="'Liberation Serif', 'DejaVu Serif', serif" font-size="34.7" textLength="25.83" lengthAdjust="spacingAndGlyphs">=</text>
<text x="1420.2" y="645.5" font-family="'Liberation Serif', 'DejaVu Serif', serif" font-size="34.7" textLength="15.65" lengthAdjust="spacingAndGlyphs">5</text>
<text x="1437.44" y="645.5" font-family="'Liberation Serif', 'DejaVu Serif', serif" font-size="34.7" textLength="7.92" lengthAdjust="spacingAndGlyphs">.</text>
<text x="1451.79" y="645.5" font-family="'Liberation Serif', 'DejaVu Serif', serif" font-size="34.7" textLength="33.24" lengthAdjust="spacingAndGlyphs">25</text>
<text x="1610.7" y="594.7" font-family="'Liberation Serif', 'DejaVu Serif', serif" font-size="34.7" textLength="21.59" lengthAdjust="spacingAndGlyphs" stroke="#000" stroke-width="0.62">ϒ</text>
<text x="1634.71" y="599.4" font-family="'Liberation Serif', 'DejaVu Serif', serif" font-size="24.3" font-style="italic" textLength="20.38" lengthAdjust="spacingAndGlyphs">m</text>
<text x="1662.31" y="597.48" font-family="'Liberation Serif', 'DejaVu Serif', serif" font-size="34.7" textLength="25.83" lengthAdjust="spacingAndGlyphs">=</text>
<text x="1692.57" y="594.7" font-family="'Liberation Serif', 'DejaVu Serif', serif" font-size="34.7" textLength="17.91" lengthAdjust="spacingAndGlyphs">7</text>
<text x="1610.7" y="645.5" font-family="'Liberation Serif', 'DejaVu Serif', serif" font-size="34.7" textLength="21.59" lengthAdjust="spacingAndGlyphs" stroke="#000" stroke-width="0.62">ϒ</text>
<text x="1634.71" y="650.2" font-family="'Liberation Serif', 'DejaVu Serif', serif" font-size="24.3" font-style="italic" textLength="20.38" lengthAdjust="spacingAndGlyphs">m</text>
<text x="1662.31" y="648.28" font-family="'Liberation Serif', 'DejaVu Serif', serif" font-size="34.7" textLength="25.83" lengthAdjust="spacingAndGlyphs">=</text>
<text x="1693.75" y="645.5" font-family="'Liberation Serif', 'DejaVu Serif', serif" font-size="34.7" textLength="15.29" lengthAdjust="spacingAndGlyphs">8</text>
<text x="1710.44" y="645.5" font-family="'Liberation Serif', 'DejaVu Serif', serif" font-size="34.7" textLength="7.92" lengthAdjust="spacingAndGlyphs">.</text>
<text x="1724.01" y="645.5" font-family="'Liberation Serif', 'DejaVu Serif', serif" font-size="34.7" textLength="33.63" lengthAdjust="spacingAndGlyphs">75</text>
</svg></body></html>
